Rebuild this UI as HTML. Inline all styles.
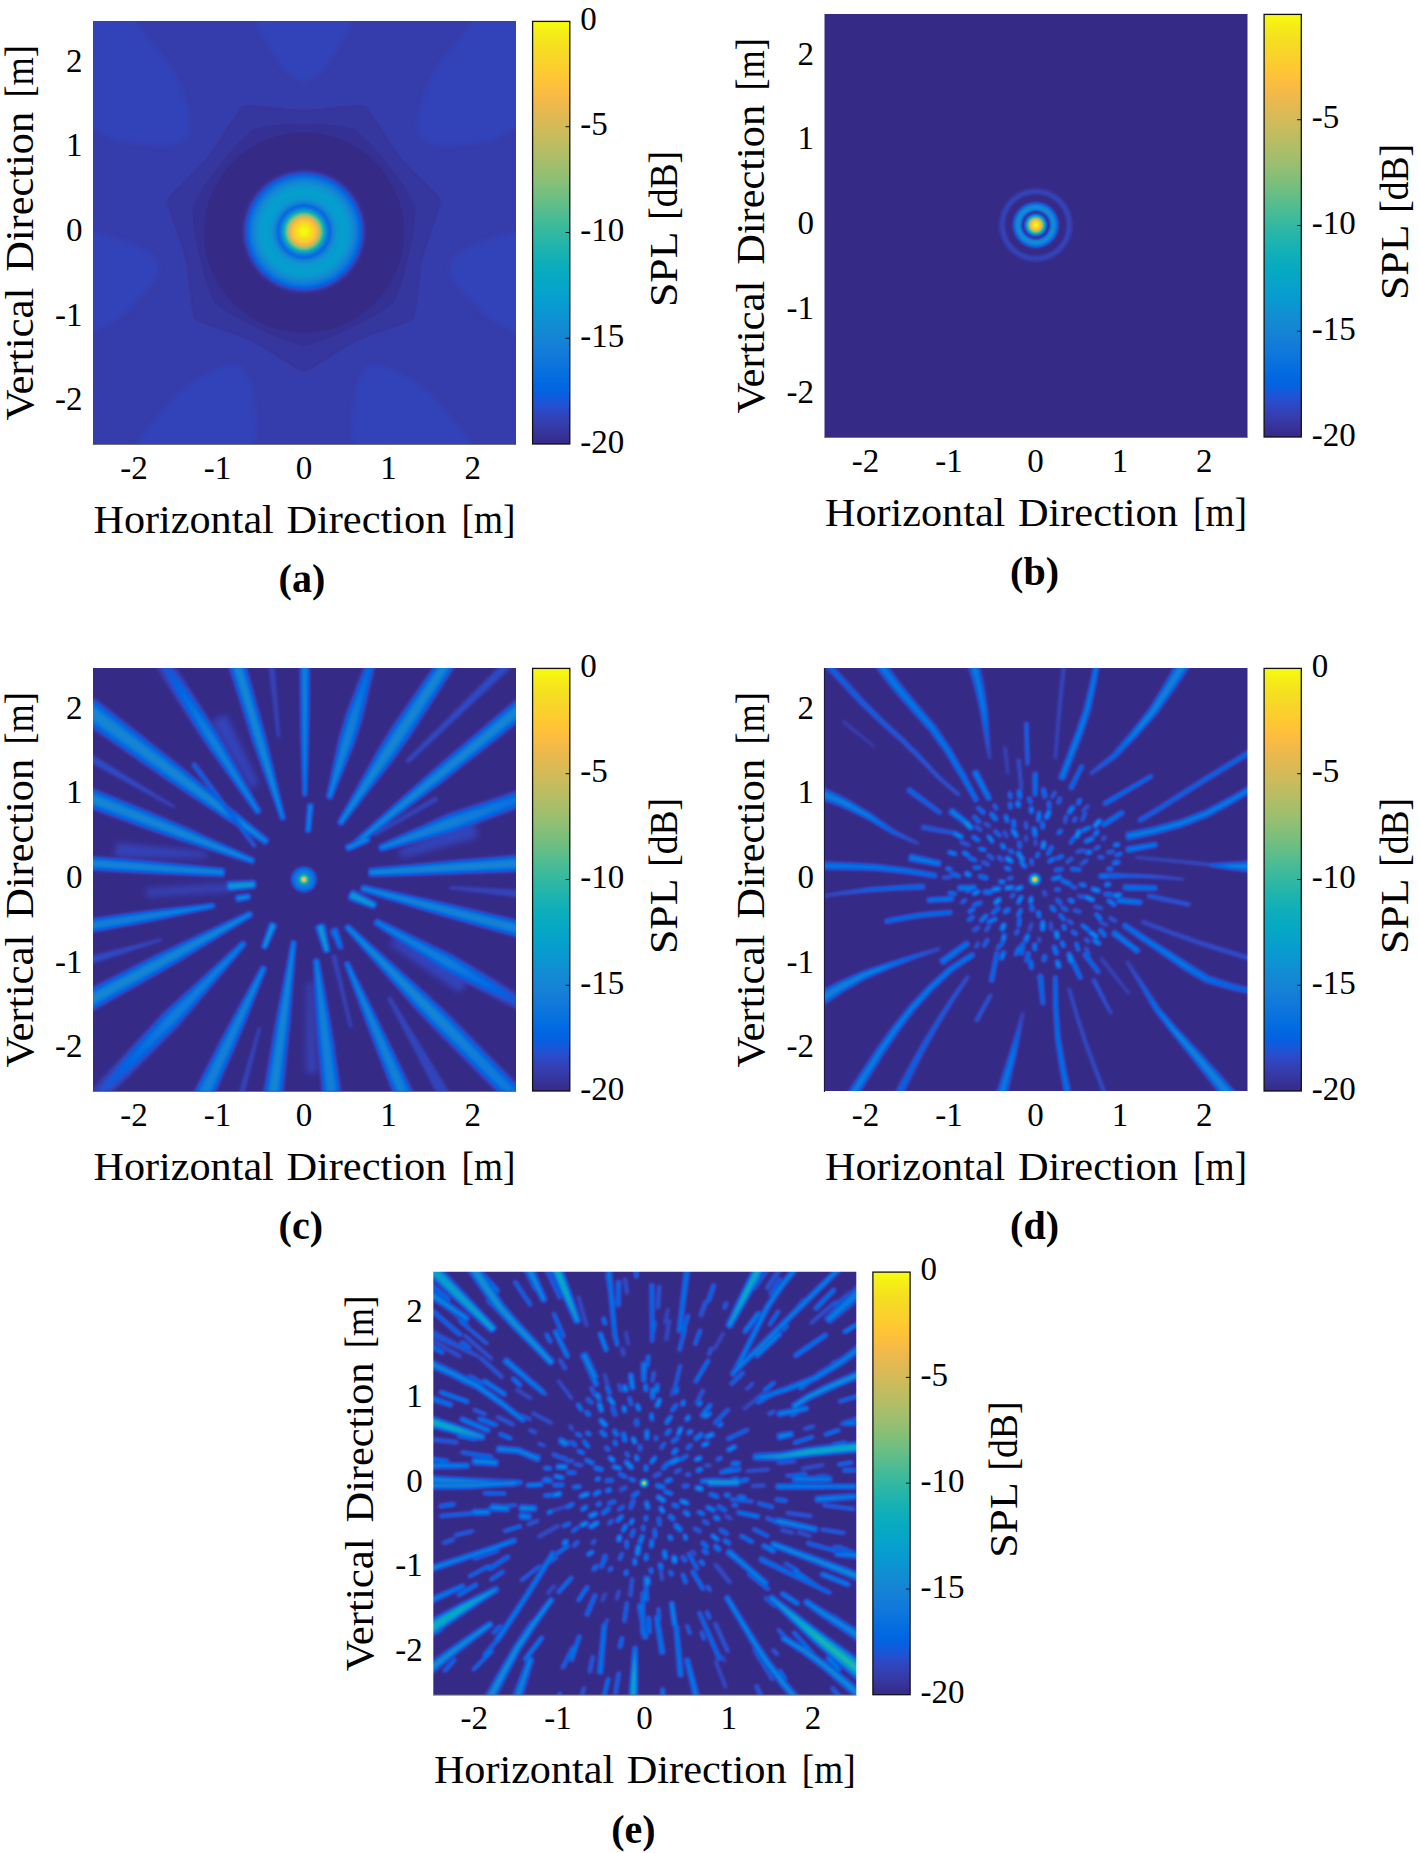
<!DOCTYPE html>
<html lang="en"><head><meta charset="utf-8"><title>Beamforming maps</title>
<style>html,body{margin:0;padding:0;background:#fff}svg{display:block}text{font-family:"Liberation Serif",serif;fill:#000}.t{font-size:33px}.l{font-size:40px}.c{font-size:40px;font-weight:bold}</style></head><body>
<svg width="1419" height="1853" viewBox="0 0 1419 1853">
<defs><filter id="pm" filterUnits="userSpaceOnUse" x="-12" y="-12" width="447" height="447" color-interpolation-filters="sRGB"><feGaussianBlur stdDeviation="1.5"/><feComponentTransfer><feFuncR type="table" tableValues="0.2081 0.2116 0.2123 0.2081 0.1959 0.1707 0.1253 0.0591 0.0117 0.0060 0.0165 0.0329 0.0498 0.0629 0.0723 0.0779 0.0793 0.0749 0.0641 0.0488 0.0343 0.0265 0.0239 0.0231 0.0228 0.0267 0.0384 0.0590 0.0843 0.1133 0.1453 0.1801 0.2178 0.2586 0.3022 0.3482 0.3953 0.4420 0.4871 0.5300 0.5709 0.6099 0.6473 0.6834 0.7184 0.7525 0.7858 0.8185 0.8507 0.8824 0.9139 0.9450 0.9739 0.9938 0.9990 0.9955 0.9880 0.9789 0.9697 0.9626 0.9589 0.9598 0.9661 0.9763"/><feFuncG type="table" tableValues="0.1663 0.1898 0.2138 0.2386 0.2645 0.2919 0.3242 0.3598 0.3875 0.4086 0.4266 0.4430 0.4586 0.4737 0.4887 0.5040 0.5200 0.5375 0.5570 0.5772 0.5966 0.6137 0.6287 0.6418 0.6535 0.6642 0.6743 0.6838 0.6928 0.7015 0.7098 0.7177 0.7250 0.7317 0.7376 0.7424 0.7459 0.7481 0.7491 0.7491 0.7485 0.7473 0.7456 0.7435 0.7411 0.7384 0.7356 0.7327 0.7299 0.7274 0.7258 0.7261 0.7314 0.7455 0.7653 0.7861 0.8066 0.8271 0.8481 0.8705 0.8949 0.9218 0.9514 0.9831"/><feFuncB type="table" tableValues="0.5292 0.5777 0.6270 0.6771 0.7279 0.7792 0.8303 0.8683 0.8820 0.8828 0.8786 0.8720 0.8641 0.8554 0.8467 0.8384 0.8312 0.8263 0.8240 0.8228 0.8199 0.8135 0.8038 0.7913 0.7768 0.7607 0.7436 0.7254 0.7062 0.6859 0.6646 0.6424 0.6193 0.5954 0.5712 0.5473 0.5244 0.5033 0.4840 0.4661 0.4494 0.4337 0.4188 0.4044 0.3905 0.3768 0.3633 0.3498 0.3360 0.3217 0.3063 0.2886 0.2666 0.2403 0.2164 0.1967 0.1794 0.1633 0.1475 0.1309 0.1132 0.0948 0.0755 0.0538"/><feFuncA type="linear" slope="0" intercept="1"/></feComponentTransfer></filter><filter id="bl2" x="-20%" y="-20%" width="140%" height="140%" color-interpolation-filters="sRGB"><feGaussianBlur stdDeviation="2"/></filter><filter id="bl3" x="-20%" y="-20%" width="140%" height="140%" color-interpolation-filters="sRGB"><feGaussianBlur stdDeviation="3"/></filter><filter id="bl5" x="-20%" y="-20%" width="140%" height="140%" color-interpolation-filters="sRGB"><feGaussianBlur stdDeviation="5"/></filter><filter id="pm0" filterUnits="userSpaceOnUse" x="-12" y="-12" width="447" height="447" color-interpolation-filters="sRGB"><feGaussianBlur stdDeviation="0.6"/><feComponentTransfer><feFuncR type="table" tableValues="0.2081 0.2116 0.2123 0.2081 0.1959 0.1707 0.1253 0.0591 0.0117 0.0060 0.0165 0.0329 0.0498 0.0629 0.0723 0.0779 0.0793 0.0749 0.0641 0.0488 0.0343 0.0265 0.0239 0.0231 0.0228 0.0267 0.0384 0.0590 0.0843 0.1133 0.1453 0.1801 0.2178 0.2586 0.3022 0.3482 0.3953 0.4420 0.4871 0.5300 0.5709 0.6099 0.6473 0.6834 0.7184 0.7525 0.7858 0.8185 0.8507 0.8824 0.9139 0.9450 0.9739 0.9938 0.9990 0.9955 0.9880 0.9789 0.9697 0.9626 0.9589 0.9598 0.9661 0.9763"/><feFuncG type="table" tableValues="0.1663 0.1898 0.2138 0.2386 0.2645 0.2919 0.3242 0.3598 0.3875 0.4086 0.4266 0.4430 0.4586 0.4737 0.4887 0.5040 0.5200 0.5375 0.5570 0.5772 0.5966 0.6137 0.6287 0.6418 0.6535 0.6642 0.6743 0.6838 0.6928 0.7015 0.7098 0.7177 0.7250 0.7317 0.7376 0.7424 0.7459 0.7481 0.7491 0.7491 0.7485 0.7473 0.7456 0.7435 0.7411 0.7384 0.7356 0.7327 0.7299 0.7274 0.7258 0.7261 0.7314 0.7455 0.7653 0.7861 0.8066 0.8271 0.8481 0.8705 0.8949 0.9218 0.9514 0.9831"/><feFuncB type="table" tableValues="0.5292 0.5777 0.6270 0.6771 0.7279 0.7792 0.8303 0.8683 0.8820 0.8828 0.8786 0.8720 0.8641 0.8554 0.8467 0.8384 0.8312 0.8263 0.8240 0.8228 0.8199 0.8135 0.8038 0.7913 0.7768 0.7607 0.7436 0.7254 0.7062 0.6859 0.6646 0.6424 0.6193 0.5954 0.5712 0.5473 0.5244 0.5033 0.4840 0.4661 0.4494 0.4337 0.4188 0.4044 0.3905 0.3768 0.3633 0.3498 0.3360 0.3217 0.3063 0.2886 0.2666 0.2403 0.2164 0.1967 0.1794 0.1633 0.1475 0.1309 0.1132 0.0948 0.0755 0.0538"/><feFuncA type="linear" slope="0" intercept="1"/></feComponentTransfer></filter><linearGradient id="cb" x1="0" y1="0" x2="0" y2="1"><stop offset="0.0000" stop-color="#f9fb0e"/><stop offset="0.0159" stop-color="#f6f313"/><stop offset="0.0317" stop-color="#f5eb18"/><stop offset="0.0476" stop-color="#f5e41d"/><stop offset="0.0635" stop-color="#f5de21"/><stop offset="0.0794" stop-color="#f7d826"/><stop offset="0.0952" stop-color="#fad32a"/><stop offset="0.1111" stop-color="#fcce2e"/><stop offset="0.1270" stop-color="#fec832"/><stop offset="0.1429" stop-color="#ffc337"/><stop offset="0.1587" stop-color="#fdbe3d"/><stop offset="0.1746" stop-color="#f8bb44"/><stop offset="0.1905" stop-color="#f1b94a"/><stop offset="0.2063" stop-color="#e9b94e"/><stop offset="0.2222" stop-color="#e1b952"/><stop offset="0.2381" stop-color="#d9ba56"/><stop offset="0.2540" stop-color="#d1bb59"/><stop offset="0.2698" stop-color="#c8bc5d"/><stop offset="0.2857" stop-color="#c0bc60"/><stop offset="0.3016" stop-color="#b7bd64"/><stop offset="0.3175" stop-color="#aebe67"/><stop offset="0.3333" stop-color="#a5be6b"/><stop offset="0.3492" stop-color="#9cbf6f"/><stop offset="0.3651" stop-color="#92bf73"/><stop offset="0.3810" stop-color="#87bf77"/><stop offset="0.3968" stop-color="#7cbf7b"/><stop offset="0.4127" stop-color="#71bf80"/><stop offset="0.4286" stop-color="#65be86"/><stop offset="0.4444" stop-color="#59bd8c"/><stop offset="0.4603" stop-color="#4dbc92"/><stop offset="0.4762" stop-color="#42bb98"/><stop offset="0.4921" stop-color="#38b99e"/><stop offset="0.5079" stop-color="#2eb7a4"/><stop offset="0.5238" stop-color="#25b5a9"/><stop offset="0.5397" stop-color="#1db3af"/><stop offset="0.5556" stop-color="#15b1b4"/><stop offset="0.5714" stop-color="#0faeb9"/><stop offset="0.5873" stop-color="#0aacbe"/><stop offset="0.6032" stop-color="#07a9c2"/><stop offset="0.6190" stop-color="#06a7c6"/><stop offset="0.6349" stop-color="#06a4ca"/><stop offset="0.6508" stop-color="#06a0cd"/><stop offset="0.6667" stop-color="#079ccf"/><stop offset="0.6825" stop-color="#0998d1"/><stop offset="0.6984" stop-color="#0c93d2"/><stop offset="0.7143" stop-color="#108ed2"/><stop offset="0.7302" stop-color="#1389d3"/><stop offset="0.7460" stop-color="#1485d4"/><stop offset="0.7619" stop-color="#1481d6"/><stop offset="0.7778" stop-color="#127dd8"/><stop offset="0.7937" stop-color="#1079da"/><stop offset="0.8095" stop-color="#0d75dc"/><stop offset="0.8254" stop-color="#0871de"/><stop offset="0.8413" stop-color="#046de0"/><stop offset="0.8571" stop-color="#0268e1"/><stop offset="0.8730" stop-color="#0363e1"/><stop offset="0.8889" stop-color="#0f5cdd"/><stop offset="0.9048" stop-color="#2053d4"/><stop offset="0.9206" stop-color="#2c4ac7"/><stop offset="0.9365" stop-color="#3243ba"/><stop offset="0.9524" stop-color="#353dad"/><stop offset="0.9683" stop-color="#3637a0"/><stop offset="0.9841" stop-color="#363093"/><stop offset="1.0000" stop-color="#352a87"/></linearGradient><clipPath id="pc"><rect x="0" y="0" width="423" height="423"/></clipPath><radialGradient id="ga" gradientUnits="userSpaceOnUse" cx="211" cy="210.5" r="64"><stop offset="0.0000" stop-color="#ffffff"/><stop offset="0.0703" stop-color="#fafafa"/><stop offset="0.1406" stop-color="#e8e8e8"/><stop offset="0.1953" stop-color="#d2d2d2"/><stop offset="0.2422" stop-color="#b2b2b2"/><stop offset="0.2891" stop-color="#868686"/><stop offset="0.3281" stop-color="#595959"/><stop offset="0.3672" stop-color="#333333"/><stop offset="0.4062" stop-color="#262626"/><stop offset="0.4531" stop-color="#3d3d3d"/><stop offset="0.5156" stop-color="#525252"/><stop offset="0.6250" stop-color="#595959"/><stop offset="0.7188" stop-color="#4f4f4f"/><stop offset="0.7969" stop-color="#3c3c3c"/><stop offset="0.8594" stop-color="#292929"/><stop offset="0.9141" stop-color="#121212"/><stop offset="0.9609" stop-color="#040404"/><stop offset="1.0000" stop-color="#000000"/></radialGradient><radialGradient id="gb" gradientUnits="userSpaceOnUse" cx="211.3" cy="211" r="40"><stop offset="0.0000" stop-color="#ffffff"/><stop offset="0.0500" stop-color="#f7f7f7"/><stop offset="0.1000" stop-color="#dfdfdf"/><stop offset="0.1500" stop-color="#b9b9b9"/><stop offset="0.2000" stop-color="#808080"/><stop offset="0.2375" stop-color="#4c4c4c"/><stop offset="0.2750" stop-color="#1a1a1a"/><stop offset="0.3125" stop-color="#030303"/><stop offset="0.3500" stop-color="#131313"/><stop offset="0.3875" stop-color="#393939"/><stop offset="0.4375" stop-color="#4a4a4a"/><stop offset="0.4875" stop-color="#3d3d3d"/><stop offset="0.5375" stop-color="#222222"/><stop offset="0.5875" stop-color="#060606"/><stop offset="0.6250" stop-color="#000000"/><stop offset="0.7250" stop-color="#000000"/><stop offset="0.7750" stop-color="#090909"/><stop offset="0.8375" stop-color="#121212"/><stop offset="0.9000" stop-color="#090909"/><stop offset="0.9625" stop-color="#000000"/><stop offset="1.0000" stop-color="#000000"/></radialGradient><radialGradient id="gc" gradientUnits="userSpaceOnUse" cx="210.9" cy="211.4" r="13"><stop offset="0.0000" stop-color="#ffffff"/><stop offset="0.1000" stop-color="#ffffff"/><stop offset="0.2000" stop-color="#b2b2b2"/><stop offset="0.3231" stop-color="#666666"/><stop offset="0.4769" stop-color="#393939"/><stop offset="0.8462" stop-color="#2d2d2d"/><stop offset="0.9231" stop-color="#1a1a1a"/><stop offset="1.0000" stop-color="#000000"/></radialGradient><radialGradient id="gd" gradientUnits="userSpaceOnUse" cx="210.3" cy="211.4" r="7"><stop offset="0.0000" stop-color="#ffffff"/><stop offset="0.2286" stop-color="#ffffff"/><stop offset="0.3714" stop-color="#b2b2b2"/><stop offset="0.5571" stop-color="#595959"/><stop offset="0.7429" stop-color="#2d2d2d"/><stop offset="0.8857" stop-color="#000000"/></radialGradient><radialGradient id="ge" gradientUnits="userSpaceOnUse" cx="210.8" cy="211.4" r="5"><stop offset="0.0000" stop-color="#ffffff"/><stop offset="0.2600" stop-color="#ffffff"/><stop offset="0.4600" stop-color="#999999"/><stop offset="0.6600" stop-color="#404040"/><stop offset="0.8400" stop-color="#000000"/></radialGradient><linearGradient id="r1" gradientUnits="userSpaceOnUse" x1="69.2" y1="-6.7" x2="165.9" y2="144.7"><stop offset="0" stop-color="#060606"/><stop offset="0.5" stop-color="#111111"/><stop offset="1" stop-color="#111111"/></linearGradient><linearGradient id="r2" gradientUnits="userSpaceOnUse" x1="69.2" y1="-6.7" x2="165.9" y2="144.7"><stop offset="0" stop-color="#0d0d0d"/><stop offset="0.5" stop-color="#262626"/><stop offset="1" stop-color="#262626"/></linearGradient><linearGradient id="r3" gradientUnits="userSpaceOnUse" x1="69.2" y1="-6.7" x2="165.9" y2="144.7"><stop offset="0" stop-color="#151515"/><stop offset="0.5" stop-color="#3b3b3b"/><stop offset="1" stop-color="#3b3b3b"/></linearGradient><linearGradient id="r4" gradientUnits="userSpaceOnUse" x1="278.5" y1="-7.6" x2="236" y2="130.3"><stop offset="0" stop-color="#0a0a0a"/><stop offset="0.5" stop-color="#121212"/><stop offset="1" stop-color="#121212"/></linearGradient><linearGradient id="r5" gradientUnits="userSpaceOnUse" x1="278.5" y1="-7.6" x2="236" y2="130.3"><stop offset="0" stop-color="#161616"/><stop offset="0.5" stop-color="#292929"/><stop offset="1" stop-color="#292929"/></linearGradient><linearGradient id="r6" gradientUnits="userSpaceOnUse" x1="278.5" y1="-7.6" x2="236" y2="130.3"><stop offset="0" stop-color="#222222"/><stop offset="0.5" stop-color="#3d3d3d"/><stop offset="1" stop-color="#3d3d3d"/></linearGradient><linearGradient id="r7" gradientUnits="userSpaceOnUse" x1="430.5" y1="129.1" x2="286.8" y2="180.3"><stop offset="0" stop-color="#0d0d0d"/><stop offset="0.5" stop-color="#121212"/><stop offset="1" stop-color="#121212"/></linearGradient><linearGradient id="r8" gradientUnits="userSpaceOnUse" x1="430.5" y1="129.1" x2="286.8" y2="180.3"><stop offset="0" stop-color="#1d1d1d"/><stop offset="0.5" stop-color="#292929"/><stop offset="1" stop-color="#292929"/></linearGradient><linearGradient id="r9" gradientUnits="userSpaceOnUse" x1="430.5" y1="129.1" x2="286.8" y2="180.3"><stop offset="0" stop-color="#2b2b2b"/><stop offset="0.5" stop-color="#3d3d3d"/><stop offset="1" stop-color="#3d3d3d"/></linearGradient><linearGradient id="r10" gradientUnits="userSpaceOnUse" x1="3.6" y1="428.8" x2="151.5" y2="274.7"><stop offset="0" stop-color="#060606"/><stop offset="0.5" stop-color="#111111"/><stop offset="1" stop-color="#111111"/></linearGradient><linearGradient id="r11" gradientUnits="userSpaceOnUse" x1="3.6" y1="428.8" x2="151.5" y2="274.7"><stop offset="0" stop-color="#0d0d0d"/><stop offset="0.5" stop-color="#262626"/><stop offset="1" stop-color="#262626"/></linearGradient><linearGradient id="r12" gradientUnits="userSpaceOnUse" x1="3.6" y1="428.8" x2="151.5" y2="274.7"><stop offset="0" stop-color="#141414"/><stop offset="0.5" stop-color="#383838"/><stop offset="1" stop-color="#383838"/></linearGradient><linearGradient id="r13" gradientUnits="userSpaceOnUse" x1="430" y1="336.9" x2="282.2" y2="253.5"><stop offset="0" stop-color="#070707"/><stop offset="0.5" stop-color="#111111"/><stop offset="1" stop-color="#111111"/></linearGradient><linearGradient id="r14" gradientUnits="userSpaceOnUse" x1="430" y1="336.9" x2="282.2" y2="253.5"><stop offset="0" stop-color="#0f0f0f"/><stop offset="0.5" stop-color="#262626"/><stop offset="1" stop-color="#262626"/></linearGradient><linearGradient id="r15" gradientUnits="userSpaceOnUse" x1="430" y1="336.9" x2="282.2" y2="253.5"><stop offset="0" stop-color="#161616"/><stop offset="0.5" stop-color="#383838"/><stop offset="1" stop-color="#383838"/></linearGradient><linearGradient id="r16" gradientUnits="userSpaceOnUse" x1="424.1" y1="430.1" x2="253.5" y2="258"><stop offset="0" stop-color="#0e0e0e"/><stop offset="0.5" stop-color="#131313"/><stop offset="1" stop-color="#131313"/></linearGradient><linearGradient id="r17" gradientUnits="userSpaceOnUse" x1="424.1" y1="430.1" x2="253.5" y2="258"><stop offset="0" stop-color="#202020"/><stop offset="0.5" stop-color="#2a2a2a"/><stop offset="1" stop-color="#2a2a2a"/></linearGradient><linearGradient id="r18" gradientUnits="userSpaceOnUse" x1="424.1" y1="430.1" x2="253.5" y2="258"><stop offset="0" stop-color="#323232"/><stop offset="0.5" stop-color="#424242"/><stop offset="1" stop-color="#424242"/></linearGradient><linearGradient id="r19" gradientUnits="userSpaceOnUse" x1="147.9" y1="-7.7" x2="165.2" y2="90.9"><stop offset="0" stop-color="#171717"/><stop offset="0.5" stop-color="#171717"/><stop offset="1" stop-color="#090909"/></linearGradient><linearGradient id="r20" gradientUnits="userSpaceOnUse" x1="147.9" y1="-7.7" x2="165.2" y2="90.9"><stop offset="0" stop-color="#323232"/><stop offset="0.5" stop-color="#323232"/><stop offset="1" stop-color="#141414"/></linearGradient><linearGradient id="r21" gradientUnits="userSpaceOnUse" x1="-7.4" y1="123.5" x2="93.9" y2="175.8"><stop offset="0" stop-color="#191919"/><stop offset="0.5" stop-color="#191919"/><stop offset="1" stop-color="#0d0d0d"/></linearGradient><linearGradient id="r22" gradientUnits="userSpaceOnUse" x1="-7.4" y1="123.5" x2="93.9" y2="175.8"><stop offset="0" stop-color="#373737"/><stop offset="0.5" stop-color="#373737"/><stop offset="1" stop-color="#1c1c1c"/></linearGradient><linearGradient id="r23" gradientUnits="userSpaceOnUse" x1="360.7" y1="-6.8" x2="265.6" y2="106.1"><stop offset="0" stop-color="#131313"/><stop offset="0.5" stop-color="#131313"/><stop offset="1" stop-color="#090909"/></linearGradient><linearGradient id="r24" gradientUnits="userSpaceOnUse" x1="360.7" y1="-6.8" x2="265.6" y2="106.1"><stop offset="0" stop-color="#2a2a2a"/><stop offset="0.5" stop-color="#2a2a2a"/><stop offset="1" stop-color="#131313"/></linearGradient><linearGradient id="r25" gradientUnits="userSpaceOnUse" x1="360.7" y1="-6.8" x2="265.6" y2="106.1"><stop offset="0" stop-color="#3e3e3e"/><stop offset="0.5" stop-color="#3e3e3e"/><stop offset="1" stop-color="#1c1c1c"/></linearGradient><linearGradient id="r26" gradientUnits="userSpaceOnUse" x1="431" y1="198.7" x2="382.2" y2="196.7"><stop offset="0" stop-color="#181818"/><stop offset="0.5" stop-color="#181818"/><stop offset="1" stop-color="#0e0e0e"/></linearGradient><linearGradient id="r27" gradientUnits="userSpaceOnUse" x1="431" y1="198.7" x2="382.2" y2="196.7"><stop offset="0" stop-color="#373737"/><stop offset="0.5" stop-color="#373737"/><stop offset="1" stop-color="#212121"/></linearGradient><linearGradient id="r28" gradientUnits="userSpaceOnUse" x1="-7.9" y1="228.9" x2="100" y2="218.6"><stop offset="0" stop-color="#080808"/><stop offset="0.5" stop-color="#111111"/><stop offset="1" stop-color="#111111"/></linearGradient><linearGradient id="r29" gradientUnits="userSpaceOnUse" x1="-7.9" y1="228.9" x2="100" y2="218.6"><stop offset="0" stop-color="#151515"/><stop offset="0.5" stop-color="#292929"/><stop offset="1" stop-color="#292929"/></linearGradient><linearGradient id="r30" gradientUnits="userSpaceOnUse" x1="-6.9" y1="332.6" x2="115.2" y2="280.7"><stop offset="0" stop-color="#131313"/><stop offset="0.5" stop-color="#131313"/><stop offset="1" stop-color="#090909"/></linearGradient><linearGradient id="r31" gradientUnits="userSpaceOnUse" x1="-6.9" y1="332.6" x2="115.2" y2="280.7"><stop offset="0" stop-color="#2a2a2a"/><stop offset="0.5" stop-color="#2a2a2a"/><stop offset="1" stop-color="#131313"/></linearGradient><linearGradient id="r32" gradientUnits="userSpaceOnUse" x1="-6.9" y1="332.6" x2="115.2" y2="280.7"><stop offset="0" stop-color="#3c3c3c"/><stop offset="0.5" stop-color="#3c3c3c"/><stop offset="1" stop-color="#1b1b1b"/></linearGradient><linearGradient id="r33" gradientUnits="userSpaceOnUse" x1="175.8" y1="430.7" x2="198.5" y2="344.4"><stop offset="0" stop-color="#171717"/><stop offset="0.5" stop-color="#171717"/><stop offset="1" stop-color="#090909"/></linearGradient><linearGradient id="r34" gradientUnits="userSpaceOnUse" x1="175.8" y1="430.7" x2="198.5" y2="344.4"><stop offset="0" stop-color="#323232"/><stop offset="0.5" stop-color="#323232"/><stop offset="1" stop-color="#141414"/></linearGradient><linearGradient id="r35" gradientUnits="userSpaceOnUse" x1="406.3" y1="429.1" x2="301.9" y2="292.8"><stop offset="0" stop-color="#131313"/><stop offset="0.5" stop-color="#131313"/><stop offset="1" stop-color="#070707"/></linearGradient><linearGradient id="r36" gradientUnits="userSpaceOnUse" x1="406.3" y1="429.1" x2="301.9" y2="292.8"><stop offset="0" stop-color="#2a2a2a"/><stop offset="0.5" stop-color="#2a2a2a"/><stop offset="1" stop-color="#0f0f0f"/></linearGradient><linearGradient id="r37" gradientUnits="userSpaceOnUse" x1="406.3" y1="429.1" x2="301.9" y2="292.8"><stop offset="0" stop-color="#3e3e3e"/><stop offset="0.5" stop-color="#3e3e3e"/><stop offset="1" stop-color="#161616"/></linearGradient><linearGradient id="r38" gradientUnits="userSpaceOnUse" x1="430.8" y1="324.2" x2="298.9" y2="256.5"><stop offset="0" stop-color="#0d0d0d"/><stop offset="0.5" stop-color="#151515"/><stop offset="1" stop-color="#151515"/></linearGradient><linearGradient id="r39" gradientUnits="userSpaceOnUse" x1="430.8" y1="324.2" x2="298.9" y2="256.5"><stop offset="0" stop-color="#1e1e1e"/><stop offset="0.5" stop-color="#323232"/><stop offset="1" stop-color="#323232"/></linearGradient><linearGradient id="r40" gradientUnits="userSpaceOnUse" x1="121.3" y1="-7.4" x2="144.7" y2="50.8"><stop offset="0" stop-color="#1e1e1e"/><stop offset="0.5" stop-color="#1e1e1e"/><stop offset="1" stop-color="#151515"/></linearGradient><linearGradient id="r41" gradientUnits="userSpaceOnUse" x1="121.3" y1="-7.4" x2="144.7" y2="50.8"><stop offset="0" stop-color="#424242"/><stop offset="0.5" stop-color="#424242"/><stop offset="1" stop-color="#2e2e2e"/></linearGradient><linearGradient id="r42" gradientUnits="userSpaceOnUse" x1="121.3" y1="-7.4" x2="144.7" y2="50.8"><stop offset="0" stop-color="#6b6b6b"/><stop offset="0.5" stop-color="#6b6b6b"/><stop offset="1" stop-color="#4b4b4b"/></linearGradient><linearGradient id="r43" gradientUnits="userSpaceOnUse" x1="-7.7" y1="148.5" x2="50.8" y2="165.9"><stop offset="0" stop-color="#1e1e1e"/><stop offset="0.5" stop-color="#1e1e1e"/><stop offset="1" stop-color="#121212"/></linearGradient><linearGradient id="r44" gradientUnits="userSpaceOnUse" x1="-7.7" y1="148.5" x2="50.8" y2="165.9"><stop offset="0" stop-color="#424242"/><stop offset="0.5" stop-color="#424242"/><stop offset="1" stop-color="#282828"/></linearGradient><linearGradient id="r45" gradientUnits="userSpaceOnUse" x1="-7.7" y1="148.5" x2="50.8" y2="165.9"><stop offset="0" stop-color="#6b6b6b"/><stop offset="0.5" stop-color="#6b6b6b"/><stop offset="1" stop-color="#404040"/></linearGradient><linearGradient id="r46" gradientUnits="userSpaceOnUse" x1="327.6" y1="-7.1" x2="295.1" y2="55.3"><stop offset="0" stop-color="#1e1e1e"/><stop offset="0.5" stop-color="#1e1e1e"/><stop offset="1" stop-color="#151515"/></linearGradient><linearGradient id="r47" gradientUnits="userSpaceOnUse" x1="327.6" y1="-7.1" x2="295.1" y2="55.3"><stop offset="0" stop-color="#424242"/><stop offset="0.5" stop-color="#424242"/><stop offset="1" stop-color="#2e2e2e"/></linearGradient><linearGradient id="r48" gradientUnits="userSpaceOnUse" x1="327.6" y1="-7.1" x2="295.1" y2="55.3"><stop offset="0" stop-color="#6b6b6b"/><stop offset="0.5" stop-color="#6b6b6b"/><stop offset="1" stop-color="#4b4b4b"/></linearGradient><linearGradient id="r49" gradientUnits="userSpaceOnUse" x1="431" y1="174.7" x2="320.1" y2="185.2"><stop offset="0" stop-color="#1d1d1d"/><stop offset="0.5" stop-color="#1d1d1d"/><stop offset="1" stop-color="#0e0e0e"/></linearGradient><linearGradient id="r50" gradientUnits="userSpaceOnUse" x1="431" y1="174.7" x2="320.1" y2="185.2"><stop offset="0" stop-color="#404040"/><stop offset="0.5" stop-color="#404040"/><stop offset="1" stop-color="#202020"/></linearGradient><linearGradient id="r51" gradientUnits="userSpaceOnUse" x1="431" y1="174.7" x2="320.1" y2="185.2"><stop offset="0" stop-color="#6b6b6b"/><stop offset="0.5" stop-color="#6b6b6b"/><stop offset="1" stop-color="#363636"/></linearGradient><linearGradient id="r52" gradientUnits="userSpaceOnUse" x1="-6.8" y1="359.3" x2="64.4" y2="316.8"><stop offset="0" stop-color="#1e1e1e"/><stop offset="0.5" stop-color="#1e1e1e"/><stop offset="1" stop-color="#121212"/></linearGradient><linearGradient id="r53" gradientUnits="userSpaceOnUse" x1="-6.8" y1="359.3" x2="64.4" y2="316.8"><stop offset="0" stop-color="#424242"/><stop offset="0.5" stop-color="#424242"/><stop offset="1" stop-color="#282828"/></linearGradient><linearGradient id="r54" gradientUnits="userSpaceOnUse" x1="-6.8" y1="359.3" x2="64.4" y2="316.8"><stop offset="0" stop-color="#6b6b6b"/><stop offset="0.5" stop-color="#6b6b6b"/><stop offset="1" stop-color="#404040"/></linearGradient><linearGradient id="r55" gradientUnits="userSpaceOnUse" x1="199.7" y1="431" x2="201.8" y2="374.7"><stop offset="0" stop-color="#1d1d1d"/><stop offset="0.5" stop-color="#1d1d1d"/><stop offset="1" stop-color="#0e0e0e"/></linearGradient><linearGradient id="r56" gradientUnits="userSpaceOnUse" x1="199.7" y1="431" x2="201.8" y2="374.7"><stop offset="0" stop-color="#404040"/><stop offset="0.5" stop-color="#404040"/><stop offset="1" stop-color="#202020"/></linearGradient><linearGradient id="r57" gradientUnits="userSpaceOnUse" x1="199.7" y1="431" x2="201.8" y2="374.7"><stop offset="0" stop-color="#6b6b6b"/><stop offset="0.5" stop-color="#6b6b6b"/><stop offset="1" stop-color="#363636"/></linearGradient><linearGradient id="r58" gradientUnits="userSpaceOnUse" x1="430.9" y1="402.3" x2="336.8" y2="325"><stop offset="0" stop-color="#202020"/><stop offset="0.5" stop-color="#202020"/><stop offset="1" stop-color="#121212"/></linearGradient><linearGradient id="r59" gradientUnits="userSpaceOnUse" x1="430.9" y1="402.3" x2="336.8" y2="325"><stop offset="0" stop-color="#474747"/><stop offset="0.5" stop-color="#474747"/><stop offset="1" stop-color="#272727"/></linearGradient><linearGradient id="r60" gradientUnits="userSpaceOnUse" x1="430.9" y1="402.3" x2="336.8" y2="325"><stop offset="0" stop-color="#787878"/><stop offset="0.5" stop-color="#787878"/><stop offset="1" stop-color="#424242"/></linearGradient></defs>
<g transform="translate(0,0)">
<g transform="translate(93,21)" clip-path="url(#pc)"><g filter="url(#pm0)">
<rect x="-12" y="-12" width="447" height="447" fill="#0c0c0c"/>
<g filter="url(#bl2)"><path d="M211 62.5L223.5 56.5L229.5 50.5L234.4 44.5L238.7 38.5L242.7 32.5L246.4 26.5L250 20.5L253.3 14.5L256.6 8.5L258.2 2.5L262.6 -17.5L267 -37.5L271.4 -57.5L275.8 -77.5L280.2 -97.5L284.6 -117.5L137.4 -117.5L141.8 -97.5L146.2 -77.5L150.6 -57.5L155 -37.5L159.4 -17.5L163.8 2.5L165.4 8.5L168.7 14.5L172 20.5L175.6 26.5L179.3 32.5L183.3 38.5L187.6 44.5L192.5 50.5L198.5 56.5L211 62.5Z" fill="#101010"/><path d="M326.7 118.2L339.2 124.3L347.6 125.2L355.4 125.3L362.8 124.9L369.9 124.3L376.9 123.5L383.8 122.5L390.6 121.4L397.3 120.2L403 117.7L421.4 108.7L439.8 99.7L458.2 90.6L476.6 81.6L494.9 72.6L513.3 63.5L421.6 -51.5L408.7 -35.6L395.8 -19.7L382.9 -3.8L370 12.1L357.1 28L344.2 43.9L340.5 48.9L337.9 55.2L335.3 61.6L332.8 68.1L330.4 74.7L328.2 81.6L326.2 88.7L324.5 96.3L323.6 104.7L326.7 118.2Z" fill="#101010"/><path d="M355.3 243.4L358.3 257L362.9 264.2L367.6 270.3L372.5 275.8L377.5 281L382.5 286L387.6 290.8L392.7 295.4L397.8 299.9L403.3 302.8L421.8 311.5L440.3 320.3L458.8 329L477.4 337.8L495.9 346.5L514.4 355.2L547.2 211.7L526.7 211.6L506.2 211.4L485.7 211.2L465.2 211.1L444.8 210.9L424.3 210.8L418.1 211L411.5 212.9L404.9 214.8L398.3 216.9L391.6 219.2L384.9 221.7L378 224.6L371.1 228L363.9 232.5L355.3 243.4Z" fill="#101010"/><path d="M275.2 343.8L266.5 354.7L263.7 362.7L261.9 370.2L260.6 377.5L259.7 384.6L258.9 391.6L258.3 398.6L257.9 405.5L257.6 412.3L258.7 418.4L263.4 438.3L268.1 458.2L272.9 478.2L277.6 498.1L282.3 518L287 538L419.6 474.1L407 458L394.3 441.9L381.7 425.8L369.1 409.6L356.4 393.5L343.8 377.4L339.7 372.7L334.2 368.7L328.5 364.8L322.8 360.9L316.8 357.1L310.6 353.4L304.1 349.9L297.1 346.6L289.1 343.8L275.2 343.8Z" fill="#101010"/><path d="M146.8 343.8L132.9 343.8L124.9 346.6L117.9 349.9L111.4 353.4L105.2 357.1L99.2 360.9L93.5 364.8L87.8 368.7L82.3 372.7L78.2 377.4L65.6 393.5L52.9 409.6L40.3 425.8L27.7 441.9L15 458L2.4 474.1L135 538L139.7 518L144.4 498.1L149.1 478.2L153.9 458.2L158.6 438.3L163.3 418.4L164.4 412.3L164.1 405.5L163.7 398.6L163.1 391.6L162.3 384.6L161.4 377.5L160.1 370.2L158.3 362.7L155.5 354.7L146.8 343.8Z" fill="#101010"/><path d="M66.7 243.4L58.1 232.5L50.9 228L44 224.6L37.1 221.7L30.4 219.2L23.7 216.9L17.1 214.8L10.5 212.9L3.9 211L-2.3 210.8L-22.8 210.9L-43.2 211.1L-63.7 211.2L-84.2 211.4L-104.7 211.6L-125.2 211.7L-92.4 355.2L-73.9 346.5L-55.4 337.8L-36.8 329L-18.3 320.3L0.2 311.5L18.7 302.8L24.2 299.9L29.3 295.4L34.4 290.8L39.5 286L44.5 281L49.5 275.8L54.4 270.3L59.1 264.2L63.7 257L66.7 243.4Z" fill="#101010"/><path d="M95.3 118.2L98.4 104.7L97.5 96.3L95.8 88.7L93.8 81.6L91.6 74.7L89.2 68.1L86.7 61.6L84.1 55.2L81.5 48.9L77.8 43.9L64.9 28L52 12.1L39.1 -3.8L26.2 -19.7L13.3 -35.6L0.4 -51.5L-91.3 63.5L-72.9 72.6L-54.6 81.6L-36.2 90.6L-17.8 99.7L0.6 108.7L19 117.7L24.7 120.2L31.4 121.4L38.2 122.5L45.1 123.5L52.1 124.3L59.2 124.9L66.6 125.3L74.4 125.2L82.8 124.3L95.3 118.2Z" fill="#101010"/></g><path d="M337.5 210.5L338.8 206.7L340.1 202.8L341.5 198.8L342.8 194.6L344.2 190.4L345.5 186.1L346.8 181.6L345.9 177.6L342.8 174.1L339.7 170.8L336.7 167.6L333.6 164.5L330.7 161.4L327.8 158.5L324.9 155.6L322.1 152.8L319.4 150.1L316.7 147.3L314.1 144.6L311.6 141.9L309.1 139.2L306.8 136.5L304.5 133.6L302.3 130.7L300.3 127.7L298.2 124.6L296.1 121.5L294.1 118.3L292 115L289.8 111.6L287.7 108.2L285.5 104.7L283.2 101.2L280.8 97.5L278.3 93.9L275.8 90.1L273.1 86.3L269.4 84.5L264.7 84.8L260.2 85.1L255.8 85.5L251.5 85.9L247.3 86.3L243.2 86.8L239.1 87.2L235.2 87.6L231.3 88.1L227.5 88.4L223.8 88.8L220.1 89.1L216.4 89.3L212.8 89.5L209.2 89.5L205.6 89.3L201.9 89.1L198.2 88.8L194.5 88.4L190.7 88.1L186.8 87.6L182.9 87.2L178.8 86.8L174.7 86.3L170.5 85.9L166.2 85.5L161.8 85.1L157.3 84.8L152.6 84.5L148.9 86.3L146.2 90.1L143.7 93.9L141.2 97.5L138.8 101.2L136.5 104.7L134.3 108.2L132.2 111.6L130 115L127.9 118.3L125.9 121.5L123.8 124.6L121.7 127.7L119.7 130.7L117.5 133.6L115.2 136.5L112.9 139.2L110.4 141.9L107.9 144.6L105.3 147.3L102.6 150.1L99.9 152.8L97.1 155.6L94.2 158.5L91.3 161.4L88.4 164.5L85.3 167.6L82.3 170.8L79.2 174.1L76.1 177.6L75.2 181.6L76.5 186.1L77.8 190.4L79.2 194.6L80.5 198.8L81.9 202.8L83.2 206.7L84.5 210.5L85.8 214.2L87.1 217.9L88.3 221.5L89.5 225.1L90.6 228.6L91.6 232.2L92.6 235.7L93.4 239.2L94.1 242.8L94.7 246.4L95.2 250.1L95.7 253.8L96.1 257.6L96.6 261.4L97.1 265.4L97.5 269.4L98 273.5L98.5 277.7L99.1 282L99.7 286.4L100.4 290.9L101.1 295.5L103.7 298.7L108 300.5L112.3 302.1L116.4 303.7L120.5 305.2L124.4 306.6L128.3 308L132.2 309.4L135.9 310.7L139.6 312L143.1 313.3L146.7 314.6L150.1 315.9L153.5 317.3L156.9 318.8L160.1 320.3L163.3 322L166.5 323.8L169.7 325.7L172.9 327.6L176.2 329.6L179.5 331.7L182.9 333.8L186.3 335.9L189.8 338.1L193.4 340.3L197.1 342.5L200.9 344.8L204.9 347.1L208.9 349.4L213.1 349.4L217.1 347.1L221.1 344.8L224.9 342.5L228.6 340.3L232.2 338.1L235.7 335.9L239.1 333.8L242.5 331.7L245.8 329.6L249.1 327.6L252.3 325.7L255.5 323.8L258.7 322L261.9 320.3L265.1 318.8L268.5 317.3L271.9 315.9L275.3 314.6L278.9 313.3L282.4 312L286.1 310.7L289.8 309.4L293.7 308L297.6 306.6L301.5 305.2L305.6 303.7L309.7 302.1L314 300.5L318.3 298.7L320.9 295.5L321.6 290.9L322.3 286.4L322.9 282L323.5 277.7L324 273.5L324.5 269.4L324.9 265.4L325.4 261.4L325.9 257.6L326.3 253.8L326.8 250.1L327.3 246.4L327.9 242.8L328.6 239.2L329.4 235.7L330.4 232.2L331.4 228.6L332.5 225.1L333.7 221.5L334.9 217.9L336.2 214.2Z" fill="#080808" stroke="#080808" stroke-width="2" stroke-linejoin="round"/><path d="M320.5 210.5L321.1 205.6L321.7 200.5L322 195.5L322.2 190.3L322.1 185.1L319.9 180.4L317.5 175.9L315 171.5L312.4 167.2L309.6 163L306.8 159L303.8 155L300.8 151.2L297.7 147.5L294.7 143.8L291.7 140L288.8 136.1L285.7 132.3L282.6 128.6L279.3 124.9L275.8 121.3L272.2 117.8L268.4 114.3L264.5 111L260.5 107.8L255.4 106.6L250.4 105.6L245.3 104.8L240.3 104.2L235.4 103.8L230.4 103.5L225.5 103.3L220.6 103.3L215.8 103.4L211 103.5L206.2 103.4L201.4 103.3L196.5 103.3L191.6 103.5L186.6 103.8L181.7 104.2L176.7 104.8L171.6 105.6L166.6 106.6L161.5 107.8L157.5 111L153.6 114.3L149.8 117.8L146.2 121.3L142.7 124.9L139.4 128.6L136.3 132.3L133.2 136.1L130.3 140L127.3 143.8L124.3 147.5L121.2 151.2L118.2 155L115.2 159L112.4 163L109.6 167.2L107 171.5L104.5 175.9L102.1 180.4L99.9 185.1L99.8 190.3L100 195.5L100.3 200.5L100.9 205.6L101.5 210.5L102.3 215.4L103.3 220.2L104.3 224.9L105.5 229.6L106.7 234.3L107.6 239L108.6 243.8L109.7 248.5L111 253.2L112.4 258L113.9 262.7L115.6 267.5L117.5 272.2L119.6 276.9L121.9 281.6L125.9 284.8L130 287.9L134.2 290.8L138.5 293.5L142.7 296.1L147.1 298.5L151.4 300.8L155.8 302.9L160.2 304.9L164.6 306.9L168.9 309.1L173.2 311.3L177.6 313.4L182.1 315.4L186.6 317.2L191.3 319L196.1 320.6L201 322.1L205.9 323.4L211 324.5L216.1 323.4L221 322.1L225.9 320.6L230.7 319L235.4 317.2L239.9 315.4L244.4 313.4L248.8 311.3L253.1 309.1L257.4 306.9L261.8 304.9L266.2 302.9L270.6 300.8L274.9 298.5L279.3 296.1L283.5 293.5L287.8 290.8L292 287.9L296.1 284.8L300.1 281.6L302.4 276.9L304.5 272.2L306.4 267.5L308.1 262.7L309.6 258L311 253.2L312.3 248.5L313.4 243.8L314.4 239L315.3 234.3L316.5 229.6L317.7 224.9L318.7 220.2L319.7 215.4Z" fill="#040404"/><circle cx="211" cy="211.5" r="100" fill="#000000"/><circle cx="211" cy="210.5" r="64" fill="url(#ga)"/>
</g></g>
<rect x="92.8" y="443.9" width="423.4" height="0.9" fill="#262626" opacity="0.8"/>
<rect x="532.6" y="21.4" width="37.2" height="422.6" fill="url(#cb)" stroke="#111" stroke-width="1.3"/>
<rect x="565.6" y="126.2" width="4.2" height="1" fill="#111"/>
<rect x="565.6" y="232" width="4.2" height="1" fill="#111"/>
<rect x="565.6" y="337.8" width="4.2" height="1" fill="#111"/>
<text class="t" x="580.3" y="29.7">0</text>
<text class="t" x="580.3" y="135.4">-5</text>
<text class="t" x="580.3" y="241.2">-10</text>
<text class="t" x="580.3" y="346.9">-15</text>
<text class="t" x="580.3" y="452.7">-20</text>
<text class="t" text-anchor="middle" x="133.9" y="478.8">-2</text>
<text class="t" text-anchor="middle" x="217.6" y="478.8">-1</text>
<text class="t" text-anchor="middle" x="304.1" y="478.8">0</text>
<text class="t" text-anchor="middle" x="388.4" y="478.8">1</text>
<text class="t" text-anchor="middle" x="472.8" y="478.8">2</text>
<text class="t" text-anchor="end" x="82.4" y="71.8">2</text>
<text class="t" text-anchor="end" x="82.4" y="156.4">1</text>
<text class="t" text-anchor="end" x="82.4" y="241">0</text>
<text class="t" text-anchor="end" x="82.4" y="325.6">-1</text>
<text class="t" text-anchor="end" x="82.4" y="410.2">-2</text>
<text class="l" x="93.6" y="532.8" textLength="180.2" lengthAdjust="spacingAndGlyphs">Horizontal</text>
<text class="l" x="286.4" y="532.8" textLength="160" lengthAdjust="spacingAndGlyphs">Direction</text>
<text class="l" x="461.5" y="532.8" textLength="53.9" lengthAdjust="spacingAndGlyphs">[m]</text>
<text class="l" transform="translate(32.8,420.6) rotate(-90)" textLength="133" lengthAdjust="spacingAndGlyphs">Vertical</text>
<text class="l" transform="translate(32.8,271.8) rotate(-90)" textLength="160" lengthAdjust="spacingAndGlyphs">Direction</text>
<text class="l" transform="translate(32.8,97.6) rotate(-90)" textLength="52.6" lengthAdjust="spacingAndGlyphs">[m]</text>
<text class="l" transform="translate(676.8,307.1) rotate(-90)" textLength="75.5" lengthAdjust="spacingAndGlyphs">SPL</text>
<text class="l" transform="translate(676.8,219.8) rotate(-90)" textLength="68.9" lengthAdjust="spacingAndGlyphs">[dB]</text>
<text class="c" x="278.6" y="592.3">(a)</text>
</g>
<g transform="translate(731.5,-7)">
<g transform="translate(93,21)" clip-path="url(#pc)"><g filter="url(#pm0)">
<rect x="-12" y="-12" width="447" height="447" fill="#000000"/>
<circle cx="211.3" cy="211" r="40" fill="url(#gb)"/>
</g></g>
<rect x="92.8" y="443.9" width="423.4" height="0.9" fill="#262626" opacity="0.8"/>
<rect x="532.6" y="21.4" width="37.2" height="422.6" fill="url(#cb)" stroke="#111" stroke-width="1.3"/>
<rect x="565.6" y="126.2" width="4.2" height="1" fill="#111"/>
<rect x="565.6" y="232" width="4.2" height="1" fill="#111"/>
<rect x="565.6" y="337.8" width="4.2" height="1" fill="#111"/>
<text class="t" x="580.3" y="135.4">-5</text>
<text class="t" x="580.3" y="241.2">-10</text>
<text class="t" x="580.3" y="346.9">-15</text>
<text class="t" x="580.3" y="452.7">-20</text>
<text class="t" text-anchor="middle" x="133.9" y="478.8">-2</text>
<text class="t" text-anchor="middle" x="217.6" y="478.8">-1</text>
<text class="t" text-anchor="middle" x="304.1" y="478.8">0</text>
<text class="t" text-anchor="middle" x="388.4" y="478.8">1</text>
<text class="t" text-anchor="middle" x="472.8" y="478.8">2</text>
<text class="t" text-anchor="end" x="82.4" y="71.8">2</text>
<text class="t" text-anchor="end" x="82.4" y="156.4">1</text>
<text class="t" text-anchor="end" x="82.4" y="241">0</text>
<text class="t" text-anchor="end" x="82.4" y="325.6">-1</text>
<text class="t" text-anchor="end" x="82.4" y="410.2">-2</text>
<text class="l" x="93.6" y="532.8" textLength="180.2" lengthAdjust="spacingAndGlyphs">Horizontal</text>
<text class="l" x="286.4" y="532.8" textLength="160" lengthAdjust="spacingAndGlyphs">Direction</text>
<text class="l" x="461.5" y="532.8" textLength="53.9" lengthAdjust="spacingAndGlyphs">[m]</text>
<text class="l" transform="translate(32.8,420.6) rotate(-90)" textLength="133" lengthAdjust="spacingAndGlyphs">Vertical</text>
<text class="l" transform="translate(32.8,271.8) rotate(-90)" textLength="160" lengthAdjust="spacingAndGlyphs">Direction</text>
<text class="l" transform="translate(32.8,97.6) rotate(-90)" textLength="52.6" lengthAdjust="spacingAndGlyphs">[m]</text>
<text class="l" transform="translate(676.8,307.1) rotate(-90)" textLength="75.5" lengthAdjust="spacingAndGlyphs">SPL</text>
<text class="l" transform="translate(676.8,219.8) rotate(-90)" textLength="68.9" lengthAdjust="spacingAndGlyphs">[dB]</text>
<text class="c" x="278.6" y="592.3">(b)</text>
</g>
<g transform="translate(0,647)">
<g transform="translate(93,21)" clip-path="url(#pc)"><g filter="url(#pm)">
<rect x="-12" y="-12" width="447" height="447" fill="#000000"/>
<g filter="url(#bl3)"><path d="M118.7 53.8L128.7 70.3L138.6 86.9L148.6 103.5L158.6 120.1L165.7 116.3L157.4 98.8L149.2 81.3L141 63.8L132.8 46.2Z" fill="#111111"/><path d="M22.3 188.8L45.1 189.1L67.9 189.5L90.7 189.8L113.5 190.1L113.8 184.1L91.1 181.8L68.5 179.5L45.8 177.2L23.1 174.8Z" fill="#111111"/><path d="M379.3 152.1L360.8 159.7L342.3 167.3L323.7 175L305.2 182.6L307.8 190.2L327.1 184.9L346.5 179.6L365.8 174.4L385.1 169.1Z" fill="#111111"/><path d="M53.3 228.7L74.1 227.3L95 226L115.8 224.7L136.6 223.4L136.1 215.4L115.3 216.7L94.4 218L73.6 219.3L52.8 220.7Z" fill="#111111"/><path d="M376.3 309.4L357.5 299.5L338.6 289.6L319.8 279.6L301 269.7L296.8 276.6L314.4 288.6L331.9 300.7L349.4 312.7L367 324.8Z" fill="#111111"/><path d="M223.6 404.9L222.7 382.2L221.8 359.4L221 336.7L220.1 314L214.1 314.1L214 336.8L213.8 359.6L213.7 382.3L213.6 405.1Z" fill="#111111"/></g><path d="M134.1 -5.1L142.5 21.3L150.9 47.7L159.2 74.1L168.7 100.1L178.3 126.2L187.8 152.2L192.5 150.8L186.2 123.8L179.9 96.8L173.6 69.8L166.2 43.1L158.8 16.4L151.3 -10.2Z" fill="#131313"/><path d="M136.3 -5.8L144.6 20.7L152.9 47.1L161.1 73.5L170.2 99.7L179.3 125.9L188.4 152L191.9 151L185.2 124.1L178.5 97.2L171.8 70.3L164.2 43.7L156.6 17.1L149.1 -9.6Z" fill="#2a2a2a"/><path d="M139.4 -6.7L147.5 19.8L155.6 46.3L163.7 72.7L172.2 99.1L180.7 125.4L189.2 151.8L191.1 151.2L183.8 124.5L176.5 97.8L169.2 71.1L161.4 44.5L153.7 17.9L146 -8.6Z" fill="#424242"/><path d="M175 -7.7L177.3 11.7L179.6 31.1L181.8 50.5L184.1 69.8L187.1 69.6L185.6 50.1L184 30.6L182.5 11.2L181 -8.3Z" fill="#111111"/><path d="M206.6 -8L206.9 19.2L207.2 46.4L207.8 73.6L208.8 100.8L209.8 128L213.8 128L214.8 100.8L215.8 73.6L216.5 46.4L216.8 19.2L217.1 -8Z" fill="#131313"/><path d="M207.9 -8L208.1 19.2L208.4 46.4L208.8 73.6L209.6 100.8L210.3 128L213.3 128L214 100.8L214.8 73.6L215.2 46.4L215.5 19.2L215.7 -8Z" fill="#2a2a2a"/><path d="M209.8 -8L209.9 19.2L210 46.4L210.3 73.6L210.7 100.8L211 128L212.6 128L212.9 100.8L213.3 73.6L213.6 46.4L213.7 19.2L213.8 -8Z" fill="#3b3b3b"/><path d="M214.5 135.7L214 142.7L213.5 149.8L213 156.8L212.5 163.8L217.5 164.2L218.2 157.2L219 150.2L219.7 143.3L220.5 136.3Z" fill="#191919"/><path d="M215.9 135.9L215.3 142.9L214.7 149.9L214.2 156.9L213.6 163.9L216.4 164.1L217.1 157.1L217.8 150.1L218.4 143.1L219.1 136.1Z" fill="#454545"/><path d="M61.2 -1.6L75.2 19.9L89.3 41.3L103.4 62.8L118 83.9L133.1 104.7L148.2 125.5L163.4 146.3L168.4 143.1L155.9 120.6L143.4 98.1L131 75.6L117.9 53.5L104.3 31.7L90.8 9.9L77.2 -11.9Z" fill="url(#r1)"/><path d="M63.3 -3L77.3 18.6L91.2 40.1L105.2 61.6L119.6 82.9L134.4 103.9L149.2 124.9L164 145.9L167.8 143.5L154.9 121.2L142.1 99L129.3 76.7L116 54.7L102.4 33L88.7 11.2L75.1 -10.5Z" fill="url(#r2)"/><path d="M66.1 -4.8L80 16.8L94 38.4L107.9 59.9L122 81.4L136.3 102.7L150.6 124L164.9 145.3L166.9 144.1L153.6 122.1L140.2 100.2L126.9 78.2L113.4 56.4L99.7 34.7L85.9 13L72.2 -8.7Z" fill="url(#r3)"/><path d="M-14.5 51.6L8.6 67.5L31.8 83.5L54.9 99.5L78 115.5L101.5 130.9L125.1 146.3L148.6 161.7L172.2 177.1L176.3 171.4L154.7 153.4L133.1 135.4L111.5 117.4L89.8 99.4L67.8 82L45.7 64.6L23.7 47.2L1.6 29.8Z" fill="#131313"/><path d="M-12.4 48.7L10.6 64.9L33.6 81.1L56.5 97.2L79.5 113.4L102.8 129.1L126.1 144.9L149.4 160.6L172.7 176.3L175.8 172.2L153.9 154.5L132 136.8L110.2 119.2L88.3 101.5L66.1 84.3L43.9 67.1L21.7 49.9L-0.5 32.7Z" fill="#2a2a2a"/><path d="M-9.5 44.8L13.3 61.3L36.1 77.7L58.9 94.1L81.6 110.5L104.6 126.7L127.5 142.9L150.5 159.1L173.5 175.3L175 173.2L152.8 156L130.6 138.8L108.4 121.6L86.2 104.4L63.8 87.5L41.4 70.5L19 53.5L-3.4 36.6Z" fill="#424242"/><path d="M97.8 97.1L113.5 117.8L129.2 138.5L144.8 159.3L160.5 180L163.7 177.6L148.3 156.6L133 135.7L117.6 114.8L102.2 93.8Z" fill="#111111"/><path d="M98.8 96.4L114.4 117.1L130 137.9L145.6 158.7L161.2 179.4L163 178.1L147.6 157.2L132.1 136.3L116.7 115.4L101.2 94.6Z" fill="#262626"/><path d="M-9.4 92L13.2 104.1L35.8 116.3L58.4 128.5L81.1 140.7L82.6 138.1L60.8 124.4L39.1 110.7L17.4 97L-4.4 83.3Z" fill="#0a0a0a"/><path d="M-8.3 90L14.1 102.5L36.6 115.1L59 127.6L81.4 140.1L82.2 138.7L60.3 125.3L38.4 112L16.4 98.6L-5.5 85.3Z" fill="#161616"/><path d="M-11.2 138L13 146.7L37.2 155.5L61.4 164.2L85.8 172.5L110.4 180.3L134.9 188.2L159.5 196L161.7 190.4L138.2 179.6L114.8 168.9L91.4 158.1L67.7 147.8L43.9 138L20.1 128.2L-3.7 118.4Z" fill="#131313"/><path d="M-10.3 135.4L13.9 144.3L38.1 153.2L62.2 162.1L86.5 170.6L110.9 178.8L135.4 187.1L159.8 195.3L161.4 191.1L137.8 180.7L114.2 170.4L90.6 160L66.9 150L43.1 140.3L19.2 130.6L-4.7 120.9Z" fill="#2a2a2a"/><path d="M-8.9 131.9L15.2 141L39.3 150.1L63.4 159.1L87.5 168.1L111.7 176.8L136 185.5L160.2 194.2L161 192.1L137.2 182.3L113.4 172.4L89.6 162.6L65.8 152.9L41.8 143.4L17.9 133.9L-6 124.5Z" fill="#424242"/><path d="M-8.5 202.4L19.3 203.9L47.2 205.4L75 206.8L102.9 207.9L130.7 209L131.4 200.1L103.6 197.3L75.9 194.6L48.1 192.1L20.3 189.7L-7.5 187.4Z" fill="#131313"/><path d="M-8.4 200.4L19.5 202.1L47.3 203.7L75.1 205.2L103 206.5L130.8 207.9L131.3 201.2L103.5 198.7L75.8 196.2L48 193.8L20.2 191.6L-7.6 189.4Z" fill="#2a2a2a"/><path d="M-8.2 197.7L19.6 199.5L47.5 201.3L75.3 203L103.1 204.6L130.9 206.3L131.2 202.8L103.4 200.6L75.6 198.4L47.8 196.2L20 194.1L-7.8 192.1Z" fill="#404040"/><path d="M273.3 -9.3L263.1 17.8L252.8 44.9L244.8 72.6L239 101L233.2 129.4L238.9 131.2L250.1 104.4L261.3 77.7L270.2 50.2L277 22.1L283.8 -6Z" fill="url(#r4)"/><path d="M274.6 -8.8L264.9 18.4L255.1 45.6L247 73.2L240.4 101.4L233.9 129.6L238.2 131L248.6 104L259.1 77L268 49.5L275.2 21.5L282.4 -6.4Z" fill="url(#r5)"/><path d="M276.5 -8.3L267.4 19.1L258.2 46.5L249.9 74.2L242.4 102.1L234.9 130L237.1 130.6L246.6 103.4L256.2 76.1L264.8 48.6L272.7 20.8L280.5 -7Z" fill="url(#r6)"/><path d="M347.4 -11.6L331.4 11.3L315.5 34.2L299.6 57.1L284.8 80.9L271.3 105.4L257.7 129.9L244.1 154.4L249.1 157.7L266.5 135.7L283.9 113.8L301.2 91.8L317.4 69L332.4 45.4L347.4 21.9L362.3 -1.7Z" fill="#131313"/><path d="M349.3 -10.3L333.5 12.7L317.7 35.7L301.9 58.7L286.9 82.3L272.9 106.5L258.8 130.6L244.8 154.8L248.5 157.3L265.4 135L282.2 112.7L299.1 90.4L315.1 67.5L330.2 44L345.3 20.5L360.4 -3Z" fill="#2a2a2a"/><path d="M352 -8.6L336.4 14.6L320.7 37.7L305.1 60.8L289.9 84.2L275.2 108L260.4 131.7L245.7 155.4L247.6 156.7L263.8 133.9L280 111.2L296.1 88.4L311.9 65.3L327.1 42L342.4 18.6L357.7 -4.8Z" fill="#424242"/><path d="M412.9 -9.5L392.8 10.8L372.7 31.1L352.6 51.5L332.4 71.8L312.3 92.1L315.8 95.7L336.8 76.3L357.7 56.8L378.7 37.3L399.6 17.9L420.6 -1.6Z" fill="#0a0a0a"/><path d="M414.7 -7.7L394.4 12.4L374 32.5L353.7 52.7L333.4 72.8L313.1 93L315 94.9L335.8 75.3L356.6 55.6L377.3 35.9L398.1 16.3L418.9 -3.4Z" fill="#161616"/><path d="M422.9 31.1L401.6 49.2L380.3 67.3L359 85.3L337.8 103.4L317 122L296.2 140.7L275.4 159.3L254.6 178L258.4 182.6L280.8 165.9L303.1 149.2L325.5 132.5L347.9 115.8L369.8 98.5L391.7 81.2L413.6 63.9L435.5 46.6Z" fill="#131313"/><path d="M424.5 33.1L403.1 51.1L381.8 69.1L360.4 87L339.1 105L318.1 123.4L297.1 141.8L276.1 160.2L255.1 178.6L257.9 182L280.1 165.1L302.2 148.1L324.4 131.1L346.6 114.2L368.4 96.8L390.2 79.4L412.1 62L433.9 44.6Z" fill="#2a2a2a"/><path d="M426.8 35.9L405.3 53.8L383.8 71.6L362.4 89.4L340.9 107.2L319.6 125.3L298.3 143.3L277 161.4L255.8 179.4L257.2 181.2L279.1 163.9L301 146.6L322.9 129.3L344.8 111.9L366.5 94.4L388.2 76.9L409.9 59.3L431.6 41.8Z" fill="#424242"/><path d="M343.1 128.1L327.3 137.3L311.4 146.5L295.6 155.7L279.7 164.9L281.7 168.4L297.7 159.4L313.7 150.4L329.6 141.5L345.6 132.5Z" fill="#111111"/><path d="M427.5 120.7L403.4 128.9L379.4 137.1L355.3 145.3L332.1 155.9L308.8 166.4L285.6 177L288 183.6L312.6 177.1L337.3 170.6L362 164.1L385.9 155.3L409.7 146.5L433.6 137.6Z" fill="url(#r7)"/><path d="M428.3 122.9L404.3 131.2L380.2 139.5L356.2 147.7L332.8 157.8L309.3 167.8L285.9 177.9L287.7 182.7L312.2 175.7L336.6 168.7L361.1 161.7L385 152.9L408.9 144.2L432.8 135.4Z" fill="url(#r8)"/><path d="M429.4 125.9L405.4 134.3L381.4 142.7L357.4 151.1L333.7 160.4L310 169.7L286.3 179.1L287.2 181.6L311.5 173.8L335.7 166.1L359.9 158.3L383.9 149.7L407.8 141L431.7 132.4Z" fill="url(#r9)"/><path d="M430.4 186L404.7 188.2L378.9 190.5L353.2 192.8L327.4 195.2L301.7 197.6L275.9 200.1L276.5 209L302.3 208.3L328.2 207.5L354 206.7L379.9 205.8L405.7 204.9L431.5 203.9Z" fill="#131313"/><path d="M430.6 188.3L404.8 190.4L379 192.5L353.3 194.6L327.5 196.8L301.7 199L276 201.2L276.4 207.9L302.2 206.9L328.1 205.9L353.9 204.9L379.7 203.8L405.6 202.7L431.4 201.6Z" fill="#2a2a2a"/><path d="M430.8 191.5L405 193.4L379.2 195.2L353.4 197.1L327.6 199L301.9 200.9L276.1 202.8L276.3 206.3L302.1 205L327.9 203.7L353.7 202.4L379.6 201.1L405.4 199.7L431.2 198.4Z" fill="#424242"/><path d="M254.8 183.6L260.3 181L265.9 178.5L271.5 176L277.1 173.5L275.3 168.9L269.5 170.9L263.7 173L257.9 175L252.2 177.1Z" fill="#191919"/><path d="M254.2 182.1L259.8 179.7L265.4 177.3L271.1 174.9L276.7 172.5L275.7 169.9L269.9 172.1L264.2 174.2L258.5 176.4L252.7 178.5Z" fill="#424242"/><path d="M135.2 223.3L142 222.5L148.8 221.8L155.6 221.1L162.4 220.3L161.8 212.3L155 212.6L148.2 212.8L141.3 213.1L134.5 213.3Z" fill="#202020"/><path d="M135 221L141.9 220.4L148.7 219.8L155.5 219.2L162.3 218.5L162 214.1L155.1 214.5L148.3 214.8L141.5 215.2L134.7 215.6Z" fill="#525252"/><path d="M143.8 234.2L147.1 233.5L150.5 232.8L153.9 232.1L157.3 231.4L156.3 225.5L152.9 225.9L149.5 226.4L146 226.8L142.6 227.3Z" fill="#191919"/><path d="M143.5 232.6L146.9 232L150.3 231.4L153.7 230.7L157.1 230.1L156.5 226.8L153.1 227.3L149.7 227.8L146.3 228.3L142.9 228.8Z" fill="#424242"/><path d="M-6.7 265.9L19 261.1L44.8 256.4L70.4 251.2L96 245.6L121.6 240L120.8 235.1L94.8 237.9L68.7 240.7L42.7 243.9L16.8 247.5L-9.1 251.1Z" fill="#131313"/><path d="M-7 264L18.7 259.4L44.5 254.7L70.2 249.8L95.9 244.6L121.5 239.4L120.9 235.7L94.9 238.9L68.9 242.1L43 245.5L17.1 249.3L-8.8 253Z" fill="#2a2a2a"/><path d="M-7.4 261.3L18.3 256.9L44.1 252.5L69.9 247.9L95.6 243.2L121.4 238.5L121.1 236.6L95.2 240.3L69.2 243.9L43.4 247.8L17.5 251.7L-8.4 255.7Z" fill="#3b3b3b"/><path d="M-1.8 344.2L21.5 331L44.9 317.8L68.2 304.6L91.3 290.9L114.1 276.6L136.9 262.4L159.8 248.2L156.9 242.9L132.5 254.1L108 265.3L83.6 276.5L59.4 288.2L35.5 300.4L11.6 312.6L-12.3 324.8Z" fill="#131313"/><path d="M-3.2 341.7L20.2 328.6L43.7 315.5L67.1 302.5L90.3 289L113.3 275.2L136.4 261.4L159.4 247.5L157.3 243.6L133.1 255.2L108.8 266.8L84.6 278.4L60.6 290.3L36.8 302.7L12.9 315L-10.9 327.3Z" fill="#2a2a2a"/><path d="M-5.1 338.2L18.5 325.3L42 312.4L65.5 299.5L88.9 286.4L112.2 273.1L135.6 259.9L158.9 246.6L157.8 244.6L133.9 256.7L109.9 268.8L86 281L62.2 293.3L38.4 305.8L14.7 318.3L-9 330.8Z" fill="#424242"/><path d="M-6.3 298.4L12.4 292L31.2 285.7L49.9 279.4L68.6 273.1L67.8 270.2L48.6 274.8L29.3 279.5L10.1 284.1L-9.1 288.8Z" fill="#0a0a0a"/><path d="M-6.9 296.2L11.9 290.3L30.7 284.3L49.6 278.4L68.4 272.4L68 270.8L48.9 275.9L29.8 280.9L10.7 285.9L-8.4 290.9Z" fill="#161616"/><path d="M10.4 435.4L29.1 416.3L47.8 397.2L66.4 378.1L85.1 359L102.2 338.4L119.4 317.9L136.5 297.3L153.7 276.7L149.4 272.6L129.5 290.6L109.7 308.5L89.8 326.5L70 344.4L51.6 363.9L33.3 383.3L15 402.8L-3.3 422.2Z" fill="url(#r10)"/><path d="M8.6 433.6L27.3 414.5L45.9 395.4L64.5 376.2L83.1 357.1L100.6 336.9L118.1 316.7L135.6 296.4L153.1 276.2L149.9 273.1L130.4 291.4L110.9 309.7L91.4 328L71.9 346.3L53.6 365.7L35.2 385.1L16.8 404.5L-1.5 423.9Z" fill="url(#r11)"/><path d="M6.2 431.3L24.7 412.1L43.3 392.9L61.8 373.7L80.4 354.5L98.4 334.7L116.4 315L134.4 295.2L152.3 275.5L150.7 273.9L131.7 292.6L112.7 311.4L93.7 330.2L74.7 349L56.2 368.3L37.8 387.6L19.4 406.9L0.9 426.3Z" fill="url(#r12)"/><path d="M118.5 434.7L130 408L141.6 381.3L152.7 354.4L163.3 327.3L173.9 300.2L168.5 297.6L154.3 323L140 348.4L126.2 374.1L112.9 399.9L99.5 425.7Z" fill="#131313"/><path d="M116 433.6L127.8 407L139.6 380.4L151 353.7L162.1 326.8L173.2 299.9L169.2 298L155.4 323.6L141.6 349.2L128.2 375L115.1 401L102 426.9Z" fill="#2a2a2a"/><path d="M112.6 431.9L124.7 405.5L136.8 379.1L148.7 352.6L160.5 326L172.2 299.4L170.2 298.4L157.1 324.4L143.9 350.3L131 376.3L118.2 402.4L105.4 428.5Z" fill="#3d3d3d"/><path d="M150 431.5L154.5 413.6L159.1 395.7L163.6 377.8L168.1 359.9L165.2 359.1L160 376.8L154.7 394.5L149.5 412.2L144.2 429.9Z" fill="#111111"/><path d="M189.9 432.3L192.5 405.9L195 379.5L197.6 353L199.5 326.5L201.4 300L203.2 273.5L198.3 272.8L193.1 298.9L187.9 325L182.7 351L178.2 377.2L173.7 403.4L169.1 429.5Z" fill="#131313"/><path d="M187.2 432L190 405.6L192.8 379.2L195.6 352.8L198 326.3L200.3 299.9L202.6 273.4L198.9 272.9L194.2 299L189.4 325.2L184.6 351.3L180.4 377.5L176.1 403.7L171.8 429.9Z" fill="#2a2a2a"/><path d="M183.5 431.5L186.7 405.1L189.8 378.8L193 352.4L195.9 326L198.8 299.7L201.7 273.3L199.8 273L195.7 299.2L191.5 325.4L187.3 351.7L183.4 377.9L179.5 404.2L175.6 430.4Z" fill="#424242"/><path d="M176.9 254.2L174.8 260.4L172.7 266.6L170.7 272.8L168.6 279L173.2 280.9L176 275L178.8 269.1L181.5 263.1L184.3 257.2Z" fill="#202020"/><path d="M178.6 254.9L176.3 261L174.1 267.2L171.9 273.3L169.6 279.5L172.2 280.5L174.8 274.5L177.4 268.5L180 262.5L182.6 256.5Z" fill="#525252"/><path d="M433 253.6L405.8 247.2L378.6 240.8L351.4 234.4L324.1 228.5L296.8 222.6L269.5 216.7L267.7 223.5L294.5 231.7L321.2 239.8L347.9 248L374.8 255.7L401.6 263.3L428.5 271Z" fill="#131313"/><path d="M432.4 255.8L405.3 249.3L378.1 242.7L351 236.2L323.7 230L296.5 223.8L269.3 217.6L268 222.6L294.8 230.5L321.6 238.4L348.4 246.2L375.3 253.7L402.2 261.2L429.1 268.7Z" fill="#2a2a2a"/><path d="M431.6 259L404.5 252.2L377.4 245.4L350.3 238.6L323.2 232L296.1 225.4L268.9 218.8L268.3 221.4L295.2 228.9L322.1 236.3L349 243.8L376 251.1L402.9 258.3L429.9 265.6Z" fill="#404040"/><path d="M255 231.5L261.4 233.9L267.9 236.3L274.3 238.6L280.8 241L283.7 234.7L277.6 231.4L271.6 228.1L265.6 224.8L259.5 221.5Z" fill="#202020"/><path d="M256 229.2L262.4 231.8L268.7 234.4L275.1 237L281.4 239.6L283 236.1L276.9 233L270.8 229.9L264.6 226.8L258.5 223.7Z" fill="#525252"/><path d="M431.3 222.2L412.7 221.1L394 220L375.3 218.9L356.6 217.9L356.3 220.9L374.9 223.2L393.5 225.5L412 227.8L430.6 230.1Z" fill="#111111"/><path d="M433.9 330L409.5 315.6L385.2 301.3L360.8 286.9L335.2 274.8L309.6 262.6L284 250.4L280.5 256.5L304.2 272.2L327.8 287.8L351.4 303.5L376.3 316.9L401.2 330.4L426 343.9Z" fill="url(#r13)"/><path d="M432.9 331.8L408.4 317.5L384 303.3L359.6 289.1L334.2 276.4L308.9 263.8L283.5 251.2L281 255.7L304.9 270.9L328.8 286.1L352.6 301.3L377.4 314.9L402.2 328.5L427.1 342.1Z" fill="url(#r14)"/><path d="M431.5 334.3L406.9 320.2L382.4 306.1L357.9 292.1L332.9 278.8L307.9 265.5L282.9 252.3L281.6 254.6L305.8 269.2L330.1 283.8L354.3 298.3L379 312.1L403.8 325.8L428.5 339.6Z" fill="url(#r15)"/><path d="M431.6 422.7L412.6 403.6L393.7 384.5L374.7 365.3L355.7 346.2L336.2 327.7L316 309.7L295.9 291.8L275.7 273.8L255.6 255.9L251.3 260.1L269.1 280.4L286.9 300.7L304.7 321L322.4 341.3L340.8 361L359.8 380.1L378.7 399.2L397.7 418.4L416.7 437.5Z" fill="url(#r16)"/><path d="M429.6 424.6L410.7 405.5L391.7 386.4L372.8 367.3L353.8 348.1L334.4 329.5L314.6 311.2L294.7 292.9L274.9 274.7L255 256.4L251.9 259.6L270 279.6L288.1 299.5L306.1 319.5L324.2 339.5L342.8 359.1L361.7 378.2L380.7 397.3L399.7 416.4L418.6 435.6Z" fill="url(#r17)"/><path d="M427 427.3L408 408.2L389 389L370.1 369.9L351.1 350.8L331.9 331.9L312.5 313.2L293.1 294.5L273.7 275.9L254.3 257.2L252.6 258.8L271.2 278.4L289.7 297.9L308.2 317.5L326.7 337.1L345.4 356.4L364.4 375.5L383.4 394.7L402.3 413.8L421.3 432.9Z" fill="url(#r18)"/><path d="M321.6 426.4L308.7 399.6L295.8 372.9L282.6 346.3L269.2 319.8L255.7 293.4L251.2 295.4L261.3 323.3L271.4 351.2L281.8 379L292.5 406.6L303.2 434.3Z" fill="#131313"/><path d="M319.2 427.4L306.6 400.6L294 373.7L281.2 347L268.2 320.3L255.2 293.6L251.8 295.1L262.3 322.8L272.9 350.5L283.7 378.2L294.6 405.7L305.6 433.3Z" fill="#2a2a2a"/><path d="M315.9 428.8L303.7 401.8L291.5 374.8L279.2 347.8L266.7 320.9L254.3 294L252.6 294.7L263.7 322.2L274.9 349.7L286.2 377.1L297.5 404.5L308.9 431.9Z" fill="#3d3d3d"/><path d="M358.1 427L343 402.3L327.8 377.6L312.7 352.9L297.6 328.2L294.1 330.2L307.5 355.9L320.9 381.6L334.3 407.2L347.6 432.9Z" fill="#111111"/><path d="M249.2 429.8L245.1 402L241.1 374.1L236.5 346.4L231.3 318.7L226.1 291L220.2 291.7L221.4 319.8L222.6 348L224.4 376.1L226.9 404.1L229.3 432.1Z" fill="#131313"/><path d="M246.6 430.1L242.8 402.2L239 374.4L234.7 346.6L230 318.8L225.4 291.1L220.9 291.6L222.7 319.7L224.4 347.8L226.6 375.8L229.2 403.8L231.9 431.8Z" fill="#2a2a2a"/><path d="M243 430.5L239.5 402.6L236 374.7L232.2 346.9L228.3 319L224.3 291.2L222 291.5L224.5 319.5L226.9 347.5L229.6 375.5L232.5 403.4L235.4 431.4Z" fill="#3d3d3d"/><path d="M222.1 258.5L224.4 265L226.6 271.5L228.9 278L231.2 284.5L237 283L235.7 276.2L234.4 269.5L233.1 262.7L231.8 255.9Z" fill="#202020"/><path d="M224.3 258L226.3 264.5L228.4 271.1L230.4 277.6L232.5 284.2L235.7 283.3L234.1 276.6L232.6 269.9L231.1 263.2L229.6 256.5Z" fill="#525252"/><path d="M236.4 262.6L238.7 267.4L241.1 272.1L243.5 276.9L245.8 281.6L250.5 279.8L249.1 274.7L247.6 269.6L246.2 264.5L244.8 259.4Z" fill="#151515"/><path d="M238.3 261.9L240.4 266.7L242.6 271.6L244.7 276.4L246.9 281.2L249.4 280.2L247.8 275.2L246.2 270.2L244.5 265.2L242.9 260.1Z" fill="#333333"/><path d="M238.1 287.4L242.7 305.5L247.3 323.6L251.9 341.7L256.5 359.9L259.5 359.2L255.3 340.9L251.2 322.7L247.1 304.4L243 286.2Z" fill="#111111"/><circle cx="210.9" cy="211.4" r="13" fill="url(#gc)"/>
</g></g>
<rect x="92.8" y="443.9" width="423.4" height="0.9" fill="#262626" opacity="0.8"/>
<rect x="532.6" y="21.4" width="37.2" height="422.6" fill="url(#cb)" stroke="#111" stroke-width="1.3"/>
<rect x="565.6" y="126.2" width="4.2" height="1" fill="#111"/>
<rect x="565.6" y="232" width="4.2" height="1" fill="#111"/>
<rect x="565.6" y="337.8" width="4.2" height="1" fill="#111"/>
<text class="t" x="580.3" y="29.7">0</text>
<text class="t" x="580.3" y="135.4">-5</text>
<text class="t" x="580.3" y="241.2">-10</text>
<text class="t" x="580.3" y="346.9">-15</text>
<text class="t" x="580.3" y="452.7">-20</text>
<text class="t" text-anchor="middle" x="133.9" y="478.8">-2</text>
<text class="t" text-anchor="middle" x="217.6" y="478.8">-1</text>
<text class="t" text-anchor="middle" x="304.1" y="478.8">0</text>
<text class="t" text-anchor="middle" x="388.4" y="478.8">1</text>
<text class="t" text-anchor="middle" x="472.8" y="478.8">2</text>
<text class="t" text-anchor="end" x="82.4" y="71.8">2</text>
<text class="t" text-anchor="end" x="82.4" y="156.4">1</text>
<text class="t" text-anchor="end" x="82.4" y="241">0</text>
<text class="t" text-anchor="end" x="82.4" y="325.6">-1</text>
<text class="t" text-anchor="end" x="82.4" y="410.2">-2</text>
<text class="l" x="93.6" y="532.8" textLength="180.2" lengthAdjust="spacingAndGlyphs">Horizontal</text>
<text class="l" x="286.4" y="532.8" textLength="160" lengthAdjust="spacingAndGlyphs">Direction</text>
<text class="l" x="461.5" y="532.8" textLength="53.9" lengthAdjust="spacingAndGlyphs">[m]</text>
<text class="l" transform="translate(32.8,420.6) rotate(-90)" textLength="133" lengthAdjust="spacingAndGlyphs">Vertical</text>
<text class="l" transform="translate(32.8,271.8) rotate(-90)" textLength="160" lengthAdjust="spacingAndGlyphs">Direction</text>
<text class="l" transform="translate(32.8,97.6) rotate(-90)" textLength="52.6" lengthAdjust="spacingAndGlyphs">[m]</text>
<text class="l" transform="translate(676.8,307.1) rotate(-90)" textLength="75.5" lengthAdjust="spacingAndGlyphs">SPL</text>
<text class="l" transform="translate(676.8,219.8) rotate(-90)" textLength="68.9" lengthAdjust="spacingAndGlyphs">[dB]</text>
<text class="c" x="278.6" y="592.3">(c)</text>
</g>
<g transform="translate(731.5,647)">
<g transform="translate(93,21)" clip-path="url(#pc)"><g filter="url(#pm)">
<rect x="-12" y="-12" width="447" height="447" fill="#000000"/>
<path d="M-2.3 -3.2L16.2 16.5L34.9 36.2L54.4 55.1L74.7 73L94.1 91.7L112.9 111.2L133.7 128.6L136 125.9L115.8 108.2L97.5 88.3L78.4 69.1L58.6 50.7L39.6 31.6L21.6 11.6L3.6 -8.6Z" fill="#0f0f0f"/><path d="M-0.9 -4.4L17.4 15.4L35.9 35.2L55.4 54.1L75.6 72.1L94.9 90.9L113.6 110.5L134.2 128L135.5 126.5L115.2 108.9L96.8 89.1L77.6 69.9L57.6 51.7L38.6 32.6L20.4 12.7L2.3 -7.4Z" fill="#222222"/><path d="M49 -3.1L66.4 19.8L85.3 41.7L104.4 62.7L120.9 85.6L135.7 109.8L150 134.6L154.6 132.1L141.4 106.6L127.3 81.5L111.3 57.3L92.6 35.4L74.7 13.3L58.2 -9.9Z" fill="#151515"/><path d="M51.1 -4.6L68.3 18.4L86.9 40.3L105.9 61.5L122.3 84.6L137 109.1L151 134L153.5 132.6L140.1 107.3L125.9 82.4L109.7 58.5L91 36.8L72.9 14.8L56.2 -8.3Z" fill="#303030"/><path d="M142 -6.2L149.4 17.7L155.2 41.7L159.2 66.4L163.4 91.1L166.9 90.7L164.9 65.7L163 40.5L159.3 15.4L153.9 -9.3Z" fill="url(#r19)"/><path d="M144.7 -6.9L151.6 17.1L156.9 41.5L160.5 66.2L164.2 91L166.1 90.8L163.6 65.8L161.2 40.8L157 15.9L151.2 -8.6Z" fill="url(#r20)"/><path d="M-9.9 129.6L16.8 139L42.3 151L66.9 165.7L93.4 177L94.5 174.6L69.3 161.5L45.9 144.9L21.2 129.9L-4.9 117.4Z" fill="url(#r21)"/><path d="M-8.8 126.9L17.8 137L43.2 149.6L67.4 164.7L93.6 176.4L94.2 175.1L68.7 162.4L45.1 146.3L20.2 132L-6 120.2Z" fill="url(#r22)"/><path d="M-8.1 201.9L22.1 202.2L52.1 202.9L81.9 205.9L111.7 210.5L112.6 205.3L82.8 199.8L52.6 195.9L22.3 194.3L-7.9 193.1Z" fill="#151515"/><path d="M-8.1 199.9L22.1 200.4L52.2 201.4L82.1 204.5L111.9 209.3L112.4 206.4L82.6 201.2L52.5 197.5L22.3 196.1L-7.9 195.1Z" fill="#303030"/><path d="M17.4 54.1L25.4 60.4L33.4 66.8L41.4 73.1L49.4 79.5L50.6 78.1L42.7 71.6L34.8 65.1L26.9 58.5L19 52Z" fill="#131313"/><path d="M81.5 123.7L90 129.6L98.4 135.5L106.9 141.4L115.4 147.2L118 143.7L109.8 137.4L101.6 131.2L93.3 125L85.1 118.7Z" fill="#121212"/><path d="M82.3 122.6L90.7 128.5L99.1 134.5L107.6 140.5L116 146.4L117.4 144.5L109.1 138.3L100.9 132.2L92.6 126L84.3 119.8Z" fill="#292929"/><path d="M123.6 145.2L128.5 148.7L133.4 152.1L138.2 155.5L143.1 158.9L146.3 154.7L141.7 150.9L137.1 147.2L132.5 143.4L127.9 139.6Z" fill="#191919"/><path d="M124.6 144L129.4 147.5L134.2 151L139 154.5L143.8 158L145.6 155.7L140.9 152L136.3 148.3L131.6 144.6L126.9 140.9Z" fill="#3c3c3c"/><path d="M146.9 104.7L150.9 111.8L154.9 118.9L158.8 126L162.8 133L167.5 130.6L163.9 123.3L160.3 116L156.7 108.7L153.1 101.4Z" fill="#181818"/><path d="M148.3 103.9L152.2 111.1L156.1 118.2L160 125.4L163.9 132.5L166.4 131.1L162.8 123.9L159.1 116.6L155.4 109.4L151.7 102.1Z" fill="#373737"/><path d="M199.6 54.6L200 65.2L200.4 75.8L200.9 86.4L201.3 97L204.8 96.9L204.6 86.3L204.4 75.7L204.2 65.1L204 54.5Z" fill="#141414"/><path d="M200.6 54.6L201 65.2L201.3 75.8L201.7 86.4L202.1 97L204 96.9L203.8 86.3L203.5 75.7L203.3 65.1L203 54.5Z" fill="#2e2e2e"/><path d="M208 104.5L208.1 110.4L208.2 116.3L208.3 122.2L208.4 128L212.8 128L212.9 122.2L213 116.3L213.1 110.4L213.2 104.5Z" fill="#181818"/><path d="M209.2 104.5L209.2 110.4L209.3 116.3L209.3 122.2L209.4 128L211.8 128L211.9 122.2L211.9 116.3L212 110.4L212.1 104.5Z" fill="#373737"/><path d="M191.8 91.1L192.6 98.7L193.5 106.3L194.4 113.8L195.2 121.4L198.7 121L198.1 113.5L197.4 105.9L196.8 98.3L196.1 90.7Z" fill="#0e0e0e"/><path d="M192.7 91L193.6 98.6L194.4 106.2L195.2 113.7L196 121.3L197.9 121.1L197.2 113.5L196.5 106L195.8 98.4L195.1 90.8Z" fill="#1e1e1e"/><path d="M178.6 79L179.5 85.8L180.4 92.6L181.4 99.4L182.3 106.2L184.9 105.9L184.2 99.1L183.5 92.2L182.8 85.4L182.1 78.6Z" fill="#131313"/><path d="M84.1 193.3L91.9 194.6L99.7 196L107.5 197.4L115.3 198.8L116.5 192.7L108.8 190.9L101.1 189.1L93.4 187.3L85.6 185.5Z" fill="#181818"/><path d="M84.4 191.5L92.2 193L100 194.5L107.8 195.9L115.6 197.4L116.2 194.1L108.5 192.4L100.8 190.7L93 189L85.3 187.3Z" fill="#373737"/><path d="M96.4 162.1L105.2 163.5L113.9 164.9L122.7 166.2L131.4 167.6L132.2 163.3L123.5 161.5L114.9 159.7L106.2 157.9L97.5 156.1Z" fill="#0e0e0e"/><path d="M96.7 160.8L105.4 162.2L114.1 163.7L122.9 165.2L131.6 166.6L132 164.3L123.3 162.6L114.7 160.8L106 159.1L97.3 157.4Z" fill="#202020"/><path d="M354.8 -10.5L339.9 15.3L324.5 40.4L306.4 63.6L287.3 86L264.3 104.3L266.9 107.8L291.4 90.6L312.4 68.8L332.4 46.3L350 21.7L366.7 -3.1Z" fill="url(#r23)"/><path d="M356.3 -9.5L341.2 16.1L325.6 41.2L307.2 64.3L287.8 86.6L264.6 104.8L266.6 107.4L290.9 90L311.6 68.2L331.4 45.5L348.7 20.9L365.1 -4Z" fill="url(#r24)"/><path d="M358.5 -8.2L343 17.3L327 42.2L308.3 65.3L288.6 87.4L265.1 105.4L266.1 106.7L290.1 89.2L310.6 67.2L330 44.5L346.8 19.7L363 -5.4Z" fill="url(#r25)"/><path d="M270.6 -8.4L265.2 16L259.3 40.1L251.2 63.4L242.5 86.7L233.5 110.1L240.1 112.6L249.4 89.4L258.5 66.1L266.4 42.1L271.4 17.3L275.8 -7.3Z" fill="#171717"/><path d="M271.8 -8.1L266.6 16.3L260.9 40.5L252.9 64L244 87.3L235 110.7L238.6 112.1L247.8 88.8L256.9 65.5L264.8 41.6L270 17L274.6 -7.6Z" fill="#353535"/><path d="M237.7 -8.2L235.3 16.5L232.9 41.3L230.9 66L229 90.8L232.5 91.1L234.6 66.3L236.9 41.6L239.4 16.9L242.1 -7.7Z" fill="#0b0b0b"/><path d="M238.7 -8.1L236.2 16.6L233.8 41.3L231.7 66.1L229.8 90.8L231.7 91L233.8 66.3L236 41.5L238.5 16.9L241.1 -7.8Z" fill="#181818"/><path d="M428.2 78.8L405 93L381.8 107.3L358.8 121.9L336 136.7L312.7 150.8L315.4 155.3L338.8 141.3L361.8 126.7L384.9 112.3L408.1 98.2L431.4 84.1Z" fill="#111111"/><path d="M429 80L405.7 94.2L382.5 108.4L359.5 123L336.6 137.7L313.3 151.8L314.8 154.3L338.2 140.3L361.1 125.6L384.2 111.2L407.4 97L430.7 82.9Z" fill="#272727"/><path d="M428.1 115.7L404.2 129.4L380 142.2L354.5 151.8L328.1 158.8L301 164.2L302.8 172.8L330 167L357 159.5L383.2 149.2L407.8 135.8L431.7 121.7Z" fill="#171717"/><path d="M428.9 117L405 130.8L380.7 143.8L355.1 153.5L328.5 160.6L301.4 166.1L302.4 170.9L329.6 165.1L356.5 157.8L382.5 147.7L407 134.4L430.9 120.4Z" fill="#353535"/><path d="M431.2 192.5L418.9 193.3L406.7 194.1L394.6 194.7L382.4 194.9L382.1 198.4L394.3 200.4L406.5 202L418.7 203.4L430.8 204.9Z" fill="url(#r26)"/><path d="M431.1 195.3L418.9 195.6L406.7 195.8L394.5 195.9L382.3 195.7L382.2 197.6L394.3 199.1L406.5 200.2L418.7 201.2L430.9 202.1Z" fill="url(#r27)"/><path d="M385.5 194.9L366.9 193.1L348.3 191.3L329.7 189.6L311.1 188.1L310.9 190.7L329.5 192.5L348 194.3L366.6 196.4L385.1 198.4Z" fill="#0d0d0d"/><path d="M385.4 195.7L366.8 193.8L348.3 192L329.7 190.3L311.1 188.7L311 190.1L329.5 191.8L348.1 193.7L366.6 195.6L385.2 197.6Z" fill="#1c1c1c"/><path d="M326.6 105.7L314.4 112.8L302.2 119.9L290 127L277.9 134.1L280.6 138.6L292.6 131.3L304.7 124.1L316.8 116.8L328.8 109.5Z" fill="#141414"/><path d="M327.1 106.5L314.9 113.7L302.8 120.8L290.6 128L278.5 135.1L280 137.6L292 130.4L304.1 123.1L316.2 115.9L328.3 108.6Z" fill="#2e2e2e"/><path d="M297.5 141.7L292.2 145.1L286.9 148.5L281.6 151.9L276.3 155.4L279.1 159.8L284.4 156.4L289.7 153L295 149.6L300.3 146.2Z" fill="#171717"/><path d="M298.1 142.7L292.8 146.1L287.5 149.5L282.2 152.9L276.9 156.4L278.5 158.8L283.8 155.4L289.1 152L294.4 148.6L299.7 145.2Z" fill="#323232"/><path d="M302.5 184.9L310 183.4L317.6 182L325.1 180.5L332.7 179.1L331.8 173.9L324.2 175.1L316.6 176.3L309 177.6L301.4 178.8Z" fill="#181818"/><path d="M302.2 183.5L309.8 182.1L317.4 180.7L324.9 179.3L332.5 177.9L332 175.1L324.4 176.4L316.8 177.6L309.2 178.9L301.6 180.1Z" fill="#373737"/><path d="M276.2 210.2L297 209.9L317.9 209.8L338.7 210.5L359.4 212.2L359.6 210.5L338.9 207.8L318 206.3L297.1 205.5L276.2 204.9Z" fill="#121212"/><path d="M276.2 209L297 208.9L317.9 209L338.7 209.9L359.5 211.8L359.6 210.9L338.8 208.4L318 207L297.1 206.5L276.2 206.1Z" fill="#292929"/><path d="M248.2 122.4L251.2 116.3L254.1 110.2L257 104.1L260 98L256 96L252.9 102L249.8 108L246.6 114L243.5 120Z" fill="#141414"/><path d="M247.2 121.9L250.2 115.8L253.1 109.7L256.1 103.6L259.1 97.5L256.9 96.4L253.8 102.5L250.7 108.5L247.7 114.5L244.6 120.6Z" fill="#2e2e2e"/><path d="M-7.7 230.6L19.2 227L46.1 224L73.1 222.6L100.1 221.7L99.9 215.5L72.8 217.1L45.6 219.2L18.6 222.9L-8.2 227.1Z" fill="url(#r28)"/><path d="M-7.8 229.8L19.1 226.1L46 222.9L73 221.4L100.1 220.3L99.9 216.9L72.8 218.4L45.7 220.3L18.8 223.8L-8.1 227.9Z" fill="url(#r29)"/><path d="M103.2 234.9L109.6 234.5L116.1 234.1L122.5 233.7L128.9 233.4L128.6 228.1L122.2 228.5L115.8 228.8L109.3 229.2L102.9 229.6Z" fill="#181818"/><path d="M103.1 233.7L109.6 233.3L116 232.9L122.4 232.6L128.9 232.2L128.7 229.3L122.3 229.7L115.8 230L109.4 230.4L102.9 230.8Z" fill="#373737"/><path d="M61.1 256L77.6 252.9L94.1 250L110.7 248.4L127.5 247L127.1 241.7L110.2 243.1L93.4 244.8L76.7 247.7L60.1 250.9Z" fill="#141414"/><path d="M60.9 254.9L77.4 251.7L93.9 248.9L110.6 247.2L127.4 245.8L127.2 242.9L110.4 244.3L93.5 246L76.9 248.8L60.3 252Z" fill="#2e2e2e"/><path d="M-3 339L18.9 324.1L41.5 310.9L65.7 300.4L90.5 291L115.7 282.4L114.6 279L89 286.4L63.5 294.5L38 303L13.2 313.8L-10.7 326.1Z" fill="url(#r30)"/><path d="M-4 337.3L18.1 322.8L41 309.9L65.4 299.7L90.3 290.4L115.5 282L114.8 279.5L89.2 287L63.8 295.3L38.5 304.1L13.9 315.1L-9.7 327.8Z" fill="url(#r31)"/><path d="M-5.4 335L17.1 320.9L40.4 308.5L65 298.6L90 289.6L115.4 281.4L115 280.1L89.5 287.8L64.2 296.3L39.1 305.5L14.9 317L-8.3 330.1Z" fill="url(#r32)"/><path d="M30.8 432.8L45.1 409.5L59.4 386.3L74.4 363.7L90.7 342.1L108.7 321.9L128.3 303.4L150.7 288.2L147.8 283.8L124.6 298.6L103.9 317.1L85 337.2L67.6 358.7L51.6 381.1L36.3 403.9L21.2 426.7Z" fill="#171717"/><path d="M28.6 431.4L43.1 408.2L57.6 385.1L72.9 362.5L89.4 341L107.7 320.8L127.4 302.3L150 287.2L148.4 284.8L125.4 299.7L105 318.2L86.3 338.3L69.1 359.8L53.3 382.3L38.3 405.1L23.3 428.1Z" fill="#353535"/><path d="M76.4 432.3L88.8 406.8L101.5 381.6L115.2 356.8L129.8 332.7L145.4 309L142.5 307L125.8 330L110.1 353.7L95.2 378.1L81.3 402.9L67.8 427.9Z" fill="#0f0f0f"/><path d="M74.5 431.3L87.1 405.9L100.1 380.8L114 356.1L128.9 332.1L144.7 308.6L143.1 307.4L126.7 330.6L111.2 354.4L96.6 378.9L83 403.8L69.8 428.9Z" fill="#222222"/><path d="M118.7 297.2L125.5 292.2L132.2 287.2L139 282.2L145.7 277.2L142.1 272.2L135.3 277L128.4 281.8L121.5 286.7L114.6 291.5Z" fill="#171717"/><path d="M117.8 295.9L124.6 291L131.4 286L138.1 281L144.9 276L142.9 273.3L136.1 278.2L129.2 283L122.4 287.9L115.5 292.8Z" fill="#323232"/><path d="M153.4 354.5L157.1 347.7L160.8 340.8L164.5 333.9L168.2 327L165.1 325.3L161.2 332.1L157.4 338.9L153.5 345.6L149.6 352.4Z" fill="#111111"/><path d="M152.6 354L156.3 347.2L160 340.3L163.8 333.5L167.5 326.7L165.8 325.7L162 332.5L158.1 339.3L154.3 346.1L150.5 352.9Z" fill="#252525"/><path d="M181.3 432.3L186.5 410.5L191.5 388.7L196.1 366.7L200.2 344.8L196.8 344L190.7 365.4L184.3 386.8L177.4 407.9L170.3 429.1Z" fill="url(#r33)"/><path d="M178.9 431.6L184.4 409.9L189.9 388.3L194.8 366.4L199.4 344.6L197.5 344.1L191.9 365.7L185.9 387.2L179.4 408.5L172.8 429.8Z" fill="url(#r34)"/><path d="M169.3 314.6L170.7 307L172.1 299.4L173.5 291.8L174.9 284.2L170.6 283.3L168.9 290.9L167.3 298.4L165.7 306L164.1 313.5Z" fill="#141414"/><path d="M168.1 314.3L169.5 306.8L171 299.2L172.5 291.6L173.9 284L171.5 283.5L170 291.1L168.4 298.6L166.8 306.2L165.2 313.8Z" fill="#2e2e2e"/><path d="M199.6 287.1L199.9 284.1L200.1 281L200.4 278L200.7 274.9L196.3 274.4L195.8 277.4L195.3 280.4L194.8 283.4L194.4 286.5Z" fill="#171717"/><path d="M198.4 287L198.7 283.9L199 280.9L199.4 277.9L199.7 274.8L197.3 274.5L196.8 277.5L196.4 280.6L196 283.6L195.5 286.6Z" fill="#323232"/><path d="M133.5 223.2L138 222.9L142.5 222.6L147.1 222.3L151.6 222L151.4 216.7L146.9 216.8L142.3 216.9L137.8 217L133.2 217Z" fill="#191919"/><path d="M133.4 221.8L137.9 221.6L142.5 221.3L147 221.1L151.6 220.8L151.5 217.9L146.9 218L142.4 218.2L137.8 218.3L133.3 218.4Z" fill="#393939"/><path d="M412 424.4L392.8 403.1L373.4 381.8L353.6 361L335.1 339.5L319.6 315.6L303.4 291.9L300.5 293.8L315.4 318.3L329.9 343.2L347.6 366.1L365.6 388.5L383.1 411.1L400.6 433.9Z" fill="url(#r35)"/><path d="M410.6 425.6L391.5 404.1L372.4 382.7L352.8 361.7L334.4 340L319 316L303 292.1L300.8 293.6L315.9 317.9L330.6 342.7L348.4 365.5L366.6 387.6L384.4 410.1L402 432.7Z" fill="url(#r36)"/><path d="M408.5 427.3L389.8 405.6L371 383.9L351.8 362.6L333.5 340.6L318.3 316.4L302.5 292.5L301.4 293.2L316.7 317.4L331.5 342.1L349.5 364.5L368 386.4L386.1 408.6L404.1 431Z" fill="url(#r37)"/><path d="M431.6 320.8L407.5 314.8L384.3 307.4L363.5 294.6L342.6 281.1L321.3 268L300.4 254.3L297.4 258.7L317.7 273.4L338.4 287.5L358.8 302L380.9 314.9L405.5 322.2L430 327.6Z" fill="url(#r38)"/><path d="M431.2 322.3L407 316.5L383.5 309.1L362.5 296.3L341.6 282.5L320.5 269.2L299.7 255.3L298.1 257.7L318.5 272.1L339.3 286L359.9 300.3L381.7 313.2L405.9 320.5L430.4 326.1Z" fill="url(#r39)"/><path d="M431.4 289.7L402.7 280.9L374.2 271.9L345.9 262L317.9 251.4L316.3 255.5L344.3 266.3L372.6 276.5L401.2 285.7L429.9 294.7Z" fill="#0d0d0d"/><path d="M431.1 290.8L402.4 282L373.8 273L345.6 262.9L317.5 252.3L316.7 254.6L344.7 265.3L373 275.5L401.6 284.7L430.2 293.6Z" fill="#1c1c1c"/><path d="M286.4 266.5L292.9 271.3L299.4 276.2L306 281L312.5 285.9L315.7 281.7L309.3 276.6L302.9 271.6L296.5 266.6L290.2 261.6Z" fill="#191919"/><path d="M287.3 265.4L293.8 270.3L300.2 275.2L306.7 280L313.2 284.9L314.9 282.6L308.5 277.6L302.1 272.7L295.7 267.7L289.3 262.7Z" fill="#393939"/><path d="M247.9 430.1L241.4 399.9L236.1 369.6L233.7 338.9L232.9 308L228.5 308L228.6 339.1L230.5 370.2L235.1 401L241 431.5Z" fill="#151515"/><path d="M246.3 430.5L240 400.2L234.9 369.7L232.5 338.9L231.9 308L229.5 308L229.8 339L231.7 370.1L236.5 400.8L242.5 431.2Z" fill="#303030"/><path d="M284.1 429.7L273.6 402.5L263.3 375.2L254.3 347.6L246.1 319.6L242.7 320.6L250.7 348.7L259.6 376.5L269.7 404L280 431.3Z" fill="#0d0d0d"/><path d="M283.2 430L272.7 402.8L262.5 375.5L253.5 347.8L245.3 319.9L243.4 320.4L251.5 348.4L260.4 376.2L270.6 403.6L280.9 430.9Z" fill="#1c1c1c"/><path d="M212.5 306.8L213.5 314.3L214.5 321.9L215.4 329.5L216.4 337L220.8 336.6L220.3 329L219.7 321.4L219.2 313.8L218.6 306.2Z" fill="#151515"/><path d="M213.9 306.7L214.8 314.2L215.6 321.8L216.5 329.3L217.4 336.9L219.8 336.7L219.2 329.1L218.5 321.5L217.9 313.9L217.3 306.3Z" fill="#2e2e2e"/><path d="M243.5 289.4L246.2 295.1L249 300.7L251.7 306.3L254.5 312L258.5 310.1L255.9 304.4L253.4 298.6L250.8 292.9L248.3 287.2Z" fill="#171717"/><path d="M244.6 288.9L247.3 294.6L250 300.2L252.7 305.9L255.4 311.5L257.6 310.5L255 304.8L252.4 299.1L249.8 293.4L247.2 287.7Z" fill="#323232"/><path d="M257.4 286.9L261.3 291.7L265.2 296.6L269 301.5L272.9 306.3L276.4 303.6L272.7 298.6L269 293.6L265.3 288.7L261.6 283.7Z" fill="#141414"/><path d="M258.4 286.2L262.2 291L266 295.9L269.9 300.8L273.7 305.7L275.6 304.2L271.9 299.3L268.1 294.3L264.4 289.3L260.7 284.4Z" fill="#2e2e2e"/><path d="M266.7 312L271.4 320.7L276.1 329.3L280.9 337.9L285.6 346.5L288 345.3L283.6 336.5L279.3 327.6L274.9 318.8L270.6 310Z" fill="#111111"/><path d="M267.5 311.6L272.2 320.2L276.8 328.9L281.5 337.6L286.1 346.2L287.4 345.5L283 336.8L278.6 328L274.1 319.2L269.7 310.5Z" fill="#252525"/><path d="M274.8 290.9L282.1 299.9L289.4 309L296.7 318L303.9 327L306 325.4L298.9 316.2L291.8 307L284.7 297.9L277.6 288.7Z" fill="#131313"/><path d="M298.8 222.4L307.2 222.5L315.5 222.6L323.8 222.7L332.2 222.8L332.3 217.5L324 217.2L315.6 216.9L307.3 216.6L299 216.3Z" fill="#171717"/><path d="M298.9 221.1L307.2 221.2L315.5 221.3L323.9 221.4L332.2 221.6L332.3 218.7L323.9 218.4L315.6 218.2L307.3 217.9L298.9 217.7Z" fill="#323232"/><path d="M292.6 235.3L298.6 235.8L304.7 236.2L310.8 236.7L316.8 237.1L317.3 231.9L311.3 231.2L305.2 230.5L299.2 229.9L293.1 229.2Z" fill="#181818"/><path d="M292.7 233.9L298.8 234.4L304.8 234.9L310.9 235.5L317 236L317.2 233.1L311.2 232.4L305.1 231.8L299.1 231.2L293 230.6Z" fill="#373737"/><path d="M322.6 230.3L333.2 232.4L343.9 234.6L354.5 236.8L365.1 238.9L366 234.6L355.5 232.3L344.9 229.9L334.3 227.5L323.7 225.1Z" fill="#0f0f0f"/><path d="M322.8 229.1L333.5 231.3L344.1 233.5L354.7 235.8L365.3 238L365.8 235.6L355.2 233.3L344.6 230.9L334 228.6L323.5 226.3Z" fill="#222222"/><g fill="none" stroke-linecap="round"><path d="M219.7 223.9L220.8 226.7M164.7 158.1L160.9 155.6M261.7 280.5L264.1 286.1M182.2 168.2L180 164M125.8 209.2L119.1 209.5M254.3 227.9L258 229M285.9 249.9L290.8 252.9M143.5 176.9L137 174.2" stroke="#202020" stroke-width="3.5"/><path d="M207.2 256.1L204.5 262.2M214.3 270.5L215.1 273.4M258.6 142.8L263.4 137.9M201.6 172.3L201.5 168.3M210.9 176.3L211.1 172.6M226.3 255.1L226.6 261.3M276.1 254.5L282.2 256.8" stroke="#202020" stroke-width="3"/><path d="M153.5 259.3L149.6 262.3" stroke="#202020" stroke-width="4"/><path d="M187.1 209.9L184.5 210.6M283.6 184.5L288.4 183.5M233.9 134.6L235.6 130.5M289 208.7L293.6 207.1M177 191.9L174.5 189.1M261.5 271.5L263.9 273.5M247.6 218.4L250.5 219.7M274.8 189.3L278 189.4M167.8 190.3L164.1 187.3" stroke="#282828" stroke-width="3.5"/><path d="M232.9 231.9L235.7 234.8M231.5 202L237.1 201.2M154.2 153.7L149.9 149.2M195.3 178.9L194.9 174.4" stroke="#282828" stroke-width="4"/><path d="M164.4 258.1L161.6 262.5M153.6 275.5L151.8 278.6M257 196L262.1 192.6M252.6 183.9L259 182.2M270.7 238.6L276.7 240.1M156.3 161.9L151.5 158.9M257.8 152L260.8 145.3M242.9 194L247.3 190.4M278.5 171.1L280.4 169.2M163.7 196.6L158.5 194.1M201.8 160.1L201.4 154.8M240.5 153.9L241.6 148.3M250 242.2L255.5 243.9M227.6 129L230.4 124.4" stroke="#282828" stroke-width="3"/><path d="M231.3 221.4L234.8 221.8M246.1 174.8L249.9 169.4M171.9 140.8L169.9 137.4M188.9 226.7L187.1 228.7M193.3 262.7L191.6 265.4M244.4 253.1L247.2 255.1M271 180.7L274.1 178.9M175.3 167.5L170.5 163M140.6 232.2L137.6 234.4M178 275.1L173.2 280.1M249.6 152.9L251 150M162.9 271.8L159.7 277.8M207.6 196L206.8 192.1M237.8 239.4L242 241.9" stroke="#303030" stroke-width="3"/><path d="M248.4 263.6L251.3 265.9M206 134.1L204.6 130.7M223.6 185.6L227.2 179.2M247.5 201.1L254.9 201.7M134.4 208.2L127.8 205.9M173.9 240.2L168.3 245.1M148.1 249.1L144.5 251.9M159 144.6L153.9 140M280.7 226L286.5 226.5M204.1 285.4L202.1 292.6M155.9 234.9L149.7 236.8" stroke="#303030" stroke-width="3.5"/><path d="M207.3 238.9L207.7 241.6M161.6 210L155.9 208.4M220.2 288.3L219.5 291.9M206.2 293.5L206.9 299.7M145.5 221.3L142.6 222.6M220.4 128.3L219 121.8" stroke="#303030" stroke-width="4"/><path d="M235.6 247.1L239.4 251.4M194.4 279.7L191.4 286.4M275.5 208.2L282.1 208.7M212.5 188.4L213.7 185.5M155 199.6L149.9 199.7M195.2 251.3L194.4 257.6M130.3 225.8L124.9 225.1M186 129.2L185.3 125.3M292 187.1L296.2 185.8M232.7 190.3L237.7 188.2M251.8 275.6L253.8 281.7M150.7 192.2L145.4 190.1M224.7 139.3L224.3 134.5M187.8 184.1L185.2 182.5" stroke="#383838" stroke-width="3"/><path d="M148.5 241.3L145.2 243.6M185.9 139.5L185.7 135.8M238.1 212.8L244.9 215.6M189.4 157.9L189.1 153.1M253.9 135.2L255.2 132.2M275.9 262.2L280 267.3M218.3 159.5L218.1 155.2M284.1 200.8L286.6 201M125.9 201.4L123 200.6M272 246.6L275.8 250.7" stroke="#383838" stroke-width="3.5"/><path d="M183.6 241.6L180.9 243.6M165.9 224.2L160.5 224M289.9 195L293.4 194.2M171.1 151L167.2 146.4M229.7 279.3L231.9 285.1M227.3 239.4L229.7 242M195.4 129L194.6 123.4" stroke="#383838" stroke-width="4"/><path d="M234.2 164.9L236.4 162.7M258.4 162.7L264.8 159.5M196.1 242L193.8 247.7M224.8 193.4L228.8 190.9M160 181.7L155.6 180.9M258.1 257.4L263.3 261.5M153.8 172.2L148.9 169" stroke="#404040" stroke-width="3"/><path d="M179.2 284.7L177 290.3M213.8 244.6L214.8 248.1M261.6 173.4L267.7 170.7M143.2 187L139.7 184.8M214 152L214.5 145M270.8 166.2L272.8 163.7M245.5 232L248.1 233.4M239.4 258.2L240 260.6M200.3 198.4L196.9 194.3M210.1 276.5L210.4 281.1M228.8 210.9L235.4 209.3M284.6 232.9L289.7 236.7" stroke="#404040" stroke-width="3.5"/><path d="M244.9 144.1L248.1 139.7M210.7 166.9L209.7 161M203.1 267.7L201.4 272.4" stroke="#404040" stroke-width="4"/><path d="M161.9 247.5L156.7 252.7M185 201.3L181.5 199.9M256.4 216.6L260.1 217.2M182.6 152.9L181.3 148.1M130.8 185.9L125 184.2M237.5 274.3L239 278M171 251L164.4 254" stroke="#484848" stroke-width="3"/><path d="M178.6 213.7L175.9 213.7M290.7 176.9L293.3 176.7M270.2 272.6L274.3 275.4M179.7 267.6L178.9 271.7M136.8 168.9L130.5 165.6M262.6 184.4L265.7 184M206.8 143.7L206.8 140.3M179.4 179.6L177.7 177.1M281.8 216.9L284.3 216.3" stroke="#484848" stroke-width="3.5"/><path d="M187.5 219.6L182.3 220M268.8 221.1L273.7 222.6M218.4 254.5L218.1 261M197.8 191.4L193.9 185.5M144.7 206.8L142.2 205.7M232.9 294.1L234.2 298.2M290.4 227.6L295 227M244.6 286.5L246.1 292.8M194 137.4L193.4 135M174.2 220.7L169.1 221.4M222 149.3L224.4 144M191.7 167.5L188.8 162.8" stroke="#484848" stroke-width="4"/><path d="M174.6 231.8L171.5 234.8M218.6 179.1L219.3 175M232 264.7L232.7 269M179.4 257L177.8 260.7M270.8 157.6L274.8 153M186.5 193.1L182.8 190.5M146.2 159.5L142 155.5M252.4 168L254.5 163.7" stroke="#505050" stroke-width="4"/><path d="M196.7 219.3L192.7 220.9M206.7 230.3L206.1 234.1M266 264.4L271.9 268.5M261.6 229L268.1 231.9" stroke="#505050" stroke-width="3.5"/><path d="M167.7 173.4L164.2 168.7M153.9 223.6L149.5 225.6M196.8 229L193.9 234.5" stroke="#505050" stroke-width="3"/></g><circle cx="210.3" cy="211.4" r="7" fill="url(#gd)"/>
</g></g>
<rect x="92.4" y="21" width="1" height="424" fill="#0c0a40"/>
<rect x="532.6" y="21.4" width="37.2" height="422.6" fill="url(#cb)" stroke="#111" stroke-width="1.3"/>
<rect x="565.6" y="126.2" width="4.2" height="1" fill="#111"/>
<rect x="565.6" y="232" width="4.2" height="1" fill="#111"/>
<rect x="565.6" y="337.8" width="4.2" height="1" fill="#111"/>
<text class="t" x="580.3" y="29.7">0</text>
<text class="t" x="580.3" y="135.4">-5</text>
<text class="t" x="580.3" y="241.2">-10</text>
<text class="t" x="580.3" y="346.9">-15</text>
<text class="t" x="580.3" y="452.7">-20</text>
<text class="t" text-anchor="middle" x="133.9" y="478.8">-2</text>
<text class="t" text-anchor="middle" x="217.6" y="478.8">-1</text>
<text class="t" text-anchor="middle" x="304.1" y="478.8">0</text>
<text class="t" text-anchor="middle" x="388.4" y="478.8">1</text>
<text class="t" text-anchor="middle" x="472.8" y="478.8">2</text>
<text class="t" text-anchor="end" x="82.4" y="71.8">2</text>
<text class="t" text-anchor="end" x="82.4" y="156.4">1</text>
<text class="t" text-anchor="end" x="82.4" y="241">0</text>
<text class="t" text-anchor="end" x="82.4" y="325.6">-1</text>
<text class="t" text-anchor="end" x="82.4" y="410.2">-2</text>
<text class="l" x="93.6" y="532.8" textLength="180.2" lengthAdjust="spacingAndGlyphs">Horizontal</text>
<text class="l" x="286.4" y="532.8" textLength="160" lengthAdjust="spacingAndGlyphs">Direction</text>
<text class="l" x="461.5" y="532.8" textLength="53.9" lengthAdjust="spacingAndGlyphs">[m]</text>
<text class="l" transform="translate(32.8,420.6) rotate(-90)" textLength="133" lengthAdjust="spacingAndGlyphs">Vertical</text>
<text class="l" transform="translate(32.8,271.8) rotate(-90)" textLength="160" lengthAdjust="spacingAndGlyphs">Direction</text>
<text class="l" transform="translate(32.8,97.6) rotate(-90)" textLength="52.6" lengthAdjust="spacingAndGlyphs">[m]</text>
<text class="l" transform="translate(676.8,307.1) rotate(-90)" textLength="75.5" lengthAdjust="spacingAndGlyphs">SPL</text>
<text class="l" transform="translate(676.8,219.8) rotate(-90)" textLength="68.9" lengthAdjust="spacingAndGlyphs">[dB]</text>
<text class="c" x="278.6" y="592.3">(d)</text>
</g>
<g transform="translate(340.3,1250.7)">
<g transform="translate(93,21)" clip-path="url(#pc)"><g filter="url(#pm)">
<rect x="-12" y="-12" width="447" height="447" fill="#000000"/>
<g fill="none" stroke-linecap="round"><path d="M289.1 385.3L291.1 389.3M238.3 123.5L239.8 117.3M131.2 235.3L118.2 239.5M194.9 72.5L192.5 60.8M231.7 51L234.7 37.8M281.5 76.8L289.9 61.6M352.4 49.4L370.4 27.6" stroke="#181818" stroke-width="3"/><path d="M384.8 101.9L414.8 84.5M120.9 314.6L114.6 321.3M53.1 353.8L32.4 372.5M233 67.9L235.9 48.7M97.3 126.5L83.7 118M311.1 137L329 122.5M153.1 53.7L145.2 25.4M171.9 322.3L169.1 328.6" stroke="#181818" stroke-width="3.5"/><path d="M384.9 204.4L394.3 204.2M369.6 196.9L389 193.4M190.3 82.7L189 77.2M282.6 293.3L296.3 310.3M124.6 254.4L105.9 264.7M33.2 52.3L13.9 35.2M193.6 20.8L191.7 7.8M26.2 84.6L-3.6 67.4" stroke="#181818" stroke-width="4"/><path d="M98.9 389L96.9 392.5" stroke="#181818" stroke-width="2.5"/><path d="M139.1 157.6L136.7 154.3M272.5 193.7L276.9 193.7M259 279.6L261.5 282.5M292.6 244.5L297.4 246.7M313.4 117.3L319.3 111.8M365.2 260.7L376.6 264.4M7.7 358.1L2.8 361.3M321.1 378.4L339 408M314 199.4L334.8 197.9M96.8 147.5L88.3 143.7M58.2 86.9L31.4 63.8M226.8 293.2L228.8 307.8M185.5 319.7L183.5 327.2M405.2 274.8L437.4 287.5M201.8 391.8L202.2 415.4M118 151.3L99.6 141.5M348.6 258.4L359.4 261M378.1 51.1L402.1 30.1M319.1 214.3L330.8 213.9M400.7 344.3L412.5 352.9M321.2 16.7L338.1 -7.2M344.9 191.4L361.4 189.7" stroke="#202020" stroke-width="3"/><path d="M221.5 204.4L226.4 201.8M192.1 215.8L187.8 218.1M332.7 326.6L341.4 333.8M48.5 111.2L36.8 104.7M409 152.1L423.4 147.1M23.1 170.5L-5 167.3M126.5 25.7L111.1 -7.4M159.4 385.4L156.7 399.6M131.8 186.8L126.5 185.5M267.7 43.4L272.2 30.7M334 16.5L355.8 -16.9M401.3 275.4L416.2 279.7M402.1 33.8L416.7 21.4M19.7 267.9L10.8 271.1M63.9 279L41.7 286.7M323.3 414.6L332.6 434.9" stroke="#202020" stroke-width="4"/><path d="M131.8 96.8L126.8 88.2M68.4 105.2L47.3 86.1M198.9 307.3L197.1 323.8M101.6 17.3L93.3 0.5M79.5 152.7L64.5 145.5M263.3 131.1L269.6 118.9M353.9 241.2L377.4 244.4M224.6 35.6L226 14.8M282 352.1L294.3 379.4M337.3 22.3L346.4 7.5M371.7 157.1L379.8 154.8M104.1 249.2L95.4 252.6M275.8 82.4L278.1 76.8M101.7 160.7L96.8 158.5M150.8 416.5L144.5 434.7" stroke="#202020" stroke-width="3.5"/><path d="M282.4 389.7L292.4 415.4M138.6 127L125.2 109.4M174.5 114.3L171.4 102.9" stroke="#202020" stroke-width="2.5"/><path d="M178.7 208.7L173.5 208.9M199.9 229.5L197.4 235.9M207 177.6L206.6 174.9M225.6 246.7L226.2 252.3M141.9 173.3L138.6 170.8M250.5 214.6L254 214.1M254.4 176.2L257.1 173.8M287.6 258.4L293.4 261.7M249.5 285.7L251.8 288.6M174.9 177.8L173 176M285.6 234.9L291.5 238.6M181.7 142.9L179.5 136.5M239.9 169.7L243.9 166.6M111.4 335.4L95.6 358.8M343.5 227.7L352.3 229.1M20.2 232.6L7.7 234.4M14.8 27.4L-18.6 -1M180.2 32.3L174.1 3.6M275.3 29L280.3 13.9M74.7 285.1L56.3 297M26.5 62.8L-1 39.1M161.7 323.8L153.7 342.8M172.1 285.9L168.1 294.7M35.7 75.9L28.7 71" stroke="#282828" stroke-width="4"/><path d="M171.9 283.4L170.1 286.4M242.4 200.4L246.9 197.9M148.2 193.6L142.3 192.7M161.3 268.8L159.4 271.7M139.3 189.4L133.3 189.1M219.1 109.2L220.6 100.8M82.1 233.2L56.3 236.5M94 401.9L77 432.3M298 227.6L318.9 229.8M388.7 257.9L410.5 261.2M242 114.8L246.9 93.9M48.5 238.6L39.4 240.5M39 259.5L22.2 263.5M340.1 378.5L343.8 382.5M390.7 233.5L420.4 237.4M161.9 123.8L157.9 116.1M352.3 291.7L363.8 298.5" stroke="#282828" stroke-width="3"/><path d="M228 176.2L230.8 172.1M158.4 130.9L154.3 127.4M144.2 270.5L140.6 273.8M248.2 187.8L253.4 184.2M295.3 167.4L298.2 165.7M261.6 257.1L266.2 259.4M178.6 248.8L175.9 251.7M253.7 203L256 202.8M282.4 208L285.7 208.4M123.7 184.4L120.2 182.8M270.6 249.5L274.3 251.5M291.3 36L292.8 31.8M64.2 368.3L51.2 383.1M336 142L340.1 140M57.8 185L29.2 180.7M298.4 112L309.6 101.2M246.3 78L251.4 58M139.5 376.1L129.6 395.7M37.2 241.7L7.9 244.2M326.3 184.6L337.2 182.9M193.6 331.2L191.1 349.2M315.8 302.2L334.7 317.3M96.9 32.8L81.8 10.4M66.6 354.6L60.6 360.8M399.1 416.6L411.8 431.7M334.2 246.6L350.4 252.9M294.7 167.1L314 158.2M69.4 300.1L58 307.8M185.4 401.9L182.2 421.6M78.2 51.7L54.9 29.1M281.8 151.3L294.6 137.9M325.4 231.5L338.9 235.3M374.9 271.5L400.3 278.7M350.3 58L353.7 53.8" stroke="#282828" stroke-width="3.5"/><path d="M203.5 152.5L203.2 149" stroke="#282828" stroke-width="4.5"/><path d="M187.6 118.8L185.5 112.9M173.9 347.9L171 357.6M112.5 122.7L106.6 118M97.7 350.6L79.1 378.4M110.9 173.7L105.4 172" stroke="#282828" stroke-width="2.5"/><path d="M307.6 209.3L313.6 208.1M242.6 120.6L243.5 117.2M270.8 279.1L273.4 280.9M204.1 221.1L199.9 224.2M305.9 225.3L310.9 225.7M230.2 196.4L234.3 192.1M175.2 237L170.2 241.4M162.9 294.6L160.7 297.5M62.3 153.1L46.4 147.3M382.8 36.4L400.4 18.4M87.1 210.8L72.4 211.6M362.4 83.8L392.1 63.5M64 19.1L49.9 3.1M269.6 271.3L273.3 275M219.4 61.3L220.9 51.1" stroke="#303030" stroke-width="4"/><path d="M155.4 142.6L153.6 140.9" stroke="#303030" stroke-width="4.5"/><path d="M189.8 235L185.7 237.7M144.2 256.1L139.6 259.4M188.7 282.1L186.4 287.5M197.8 132.7L196.2 126.3M194.9 184.3L193.2 181.6M225.1 337.3L225.9 347.8M250.5 57.3L254.6 44.1M405.6 192.8L418.2 190.9M255.5 282L263.8 297.1M406.5 129.7L439.4 120M130.3 64.6L120.7 42.2M262 72.3L266.8 58.8M21.1 388.2L11.5 399M122.8 285.6L108.8 295.3M86.9 254.5L71.4 259.4M361.4 171L378.9 165.3M336.5 52.9L345 39.8M320.7 257.5L334.2 264.3M382.9 123.6L405.5 113.3M21.4 103.5L8.2 96.9M55 294.6L36.4 304.6" stroke="#303030" stroke-width="3"/><path d="M180.9 229.9L176.1 231.6M141.2 201.1L135 200.7M239 138.6L242.9 133.4M200.3 259L198.4 263.9M300.4 233.4L303 233.8M191.8 205.1L186.7 202.2M176.2 121L173.9 115.8M209.8 255L210.1 257.7M117.2 208.7L112.5 207.3M292 199L298 197.5M129.3 213.2L121 213.4M325 130.6L338.7 122.7M188.7 366.7L186.7 375.2M203.1 4.7L202.9 -12.2M212.2 306.3L213.5 327.9M146 364.9L138.3 387.9M346.6 399.5L351.5 407.2M259.6 300.1L269.5 317M42.7 313.1L25.5 323.2M9 80.8L-16 66.8M215.3 346L216.2 360.4M331.8 118.5L340.3 111.3M13.6 189.2L-9.2 186.4M288 200.5L306.2 197.7" stroke="#303030" stroke-width="3.5"/><path d="M53.5 71.9L26.5 49.1M345.1 358.3L365.5 378.6M353.3 204.2L372.5 202.1M51.9 142.4L40.8 138M78.7 382.2L70.5 395.1M105.7 294.9L88.1 308.7M126.6 421.5L124.1 428.9M253.7 353.8L256.8 361.9" stroke="#303030" stroke-width="2.5"/><path d="M159.2 191.3L153.2 188.5M212.8 245.6L212.4 247.7M237.1 300.7L238.2 302.5M277.4 222.5L283.8 224.9M182.5 172.5L181.4 170.2M166.3 232L164.6 233M139.1 232.6L134.3 235M233.5 162L236.2 158.9M240.3 233L243.8 234.7M358.7 142.9L365.5 139.2M33.9 130L7.8 120.7M268.9 143.9L276.9 133.5M171.7 51.5L170.4 47.3M305.2 240.9L324.6 244.8M370.4 31.4L382.8 19.6M86.6 113.3L80.2 107.1M291.8 268.9L295.5 271.7M117 209.2L110.6 208.6M394.9 386.6L405.6 397.6M108.4 366.2L92.3 387.2M399.8 91.8L424 79.6M35.7 38.5L7.7 7.5M100.3 111.8L96.2 108.1M134.4 171.9L127.5 167.9M229.4 417.7L229.4 425.6M414.2 179.3L437.5 174.5M105.1 185L92.4 181.6" stroke="#383838" stroke-width="3.5"/><path d="M171.7 163.5L168.4 160.4M191.7 168.5L190.2 162.2M282.5 274.6L285.5 277.9M168 197.7L162.4 196.4M236.8 244.7L239.7 247M213.1 284.1L212.7 287.2M269.1 209.6L275.2 209.1M299.8 191.9L305.1 191.7M223.5 118.9L223.9 113.8M262.9 166.8L267.9 162.9M224 213.9L229.9 215.4M163 112.6L153.4 93.1M330.6 274.1L340.3 279.2M349.4 322.1L364 331.7M71 122.5L51.5 109.6M54.8 158.6L28.9 147.7M312 59.6L325.1 41.8M371 183.1L384.2 181M32.3 110.7L28.6 108.8M219.4 125.7L219.5 118M389.2 302.7L414.5 312.7M133.9 84.2L122.1 60M367.4 115.9L391 99.4M323.5 83.8L346.3 62.4" stroke="#383838" stroke-width="4"/><path d="M284.4 187.7L287.5 186.3M222.8 167.6L222.7 165.5M136 251.9L130.5 254.1M221.4 258.1L221.7 264.9M200.8 208.8L197.1 207.3M177.9 296.5L176.4 298.3M154.9 174.8L150.7 169.6M147.2 164.1L143.5 162M193.5 269.6L193.4 275.5M154.1 315.5L145.2 328.5M42 167.5L25.5 164.1M361.9 299.4L384.2 314.3M183.8 73L180.3 51.8M134.3 274.4L124.1 281.7M117 69.8L113.2 62.8M138 306.2L125.3 320.2M392.4 162.8L405.2 158.5M400.6 172.9L411.6 171.1M249.6 303L252.5 310.7M420.4 103.9L430 99.6M77.3 166.6L66.8 162.4M175 407.3L168 435.1M262.4 109.8L274.9 89M121.3 223.4L111.6 223.8M394.3 291L407.6 297.6M308.1 264.2L318.8 270.3M214.1 94.1L215 84.6" stroke="#383838" stroke-width="3"/><path d="M242.6 254L246.9 257.8" stroke="#383838" stroke-width="4.5"/><path d="M360.5 360.6L379.3 381.5M273.6 340.2L276.3 346.4M71.5 221.7L51 221.6M274.1 314.6L276.7 318.6M268.3 360.6L270.7 367.2M58.7 379.3L40.1 397.9" stroke="#383838" stroke-width="2.5"/><path d="M156.2 162.5L153.7 161.2M232.2 220L237.9 222M217.6 297.6L217.9 300.3M116.6 196.9L111.8 196.2M146.1 214.9L140.6 215.5M147.9 138L144.7 132.8M149.6 181.2L145.4 179.3M265.5 240.5L269.8 242.3M411.5 60.2L423.3 53" stroke="#404040" stroke-width="3"/><path d="M213.2 231.2L214.5 235.8M231.2 280.1L232 285.7M252 240.7L254.7 242.6M213.6 166L213.7 159.8M240.4 180.9L242.8 178.4M282.4 245.9L284.7 247M238.5 331.9L241.5 353.9M199.2 116L197.5 103.4" stroke="#404040" stroke-width="4"/><path d="M132.1 172.8L127.6 170.3M218.7 269.2L218 274.6M188.3 244.9L184.5 248.9M152.5 235.4L149.3 237.6M165.9 220.2L161.9 222.4M274.3 235.7L280.4 238.4M183.4 162.9L181.1 159.3M209 264.8L206.9 270.5M193.1 300.1L192.6 302.2M176.5 218.1L174 219.2M233.5 209.5L237.4 208M233.3 151L237.3 145.4M192.5 254.2L189.9 258.6M286.2 153.5L287.9 152.3M226.8 292.8L228 295.6M212.7 198.1L212.8 194.8M107.7 212.7L94.7 213.5M172.9 78.1L167 62.1" stroke="#404040" stroke-width="3.5"/><path d="M238.1 190.8L244.3 187.8" stroke="#404040" stroke-width="4.5"/><path d="M132.8 269.8L131.1 271.5M273.7 165L279 162.9M198 195.7L193.2 190.7M172 153.3L167.8 149M163.7 251.3L157.7 254.9M214.5 307.1L214.8 311.7M131.9 195.4L124.9 195.1M225.1 225.5L230.1 228.8M168 138.6L166.2 132.6M162.1 242.1L157.4 244.2M299 208.6L303.1 207.7M192.4 118.4L191.3 115.1" stroke="#484848" stroke-width="4"/><path d="M236.4 265.1L237.6 266.8M253.7 147.7L255.2 145.2M295.5 178.2L301.3 175.1M165.8 127.1L164.2 122.9M249.5 132.6L250 130.2M205.6 137.5L204.2 133.8M186.2 196.5L180.9 195.2M203.8 187.5L203.1 185M264.6 198.8L267.5 197.6" stroke="#484848" stroke-width="3.5"/><path d="M218.7 147.5L218.1 143.1M292.5 223.3L295.5 223.5M271.9 145L276.6 142M267.6 289.9L269.7 292M212.5 118.5L212.4 113.6" stroke="#484848" stroke-width="3"/><path d="M205.2 275.3L204.2 281.7" stroke="#484848" stroke-width="4.5"/><path d="M218.3 190.4L221.6 186.1M265.9 132.8L267.1 131.1M255.4 161.3L257.7 159.6M117.4 239.8L115.4 241.1M251.5 264.2L252.5 266.9M199.3 248.3L197.6 251.5M158.8 280.3L155.2 282.8M201.6 288.3L201.5 292.1M165.5 207L163.5 207.5M129 205.9L122.2 204.5M279.2 263.9L284.1 267.8" stroke="#505050" stroke-width="3"/><path d="M248.4 229.4L253.8 231.5M179.9 188.5L176.8 186.3M270.2 173.3L273.8 171.8M179.9 131.9L175.9 126.5M153 251.5L148.5 253.5M223.9 134L226.3 128.4M227.5 236.6L229.5 239.6M154.3 222.3L147.8 224.4M191.3 139L190.7 136.1M245.3 161.9L247.4 156.9M263.1 187.6L266.7 186.3M201.4 170.6L199.9 166.9" stroke="#505050" stroke-width="3.5"/><path d="M186.2 265.3L185.7 268.2M126.3 222.2L123 222.9M263.9 216.2L267.8 217.3" stroke="#505050" stroke-width="4"/><path d="M240.9 286.1L241.4 289.4" stroke="#505050" stroke-width="4.5"/></g><path d="M-7.8 1.3L8.6 16.3L25 31.3L41.4 46.2L57.8 61.2L63.4 55.5L48.2 39.3L33.1 23.1L17.9 6.9L2.7 -9.3Z" fill="#1c1c1c"/><path d="M-6.5 0L9.8 15.1L26 30.2L42.3 45.3L58.5 60.4L62.7 56.2L47.3 40.2L32 24.1L16.7 8.1L1.3 -7.9Z" fill="#3d3d3d"/><path d="M-4.6 -2L11.5 13.4L27.5 28.7L43.5 44.1L59.5 59.4L61.7 57.3L46.1 41.4L30.6 25.6L15 9.8L-0.6 -6Z" fill="#5c5c5c"/><path d="M-9.1 23.5L1.4 30.2L12 36.9L22.6 43.5L33.2 50.2L36.5 45.2L26.4 37.9L16.2 30.6L6 23.3L-4.1 16Z" fill="#1a1a1a"/><path d="M-8 21.8L2.5 28.6L13 35.5L23.4 42.3L33.9 49.1L35.8 46.4L25.5 39.2L15.3 32L5 24.9L-5.3 17.7Z" fill="#3d3d3d"/><path d="M32.6 -3.2L47.1 18L62.4 39L80.2 57.9L98.5 75.8L116.4 94.1L121.5 89.3L104.4 70.2L87.1 51.5L70.8 32.4L56.9 11.4L43.5 -10.3Z" fill="#171717"/><path d="M34 -4.1L48.4 17.1L63.5 38.1L81.1 57.1L99.3 75.1L117 93.4L120.8 89.9L103.7 70.9L86.2 52.3L69.7 33.3L55.6 12.3L42.1 -9.3Z" fill="#333333"/><path d="M36 -5.4L50.2 16L65 36.9L82.3 55.9L100.4 74.1L118 92.6L119.9 90.8L102.6 71.9L84.9 53.5L68.2 34.4L53.9 13.5L40.1 -8.1Z" fill="#4c4c4c"/><path d="M88.5 -4.8L93.6 4.1L98.6 13L103.6 21.9L108.7 30.9L114.1 28.2L110.1 18.8L106.2 9.3L102.3 -0.1L98.4 -9.6Z" fill="#1a1a1a"/><path d="M90.7 -5.9L95.5 3.2L100.3 12.2L105.1 21.2L109.9 30.3L112.8 28.8L108.7 19.5L104.5 10.2L100.4 0.8L96.2 -8.5Z" fill="#404040"/><path d="M115.7 -5.2L122.1 9.1L128.6 23.4L135 37.8L141.5 52.1L147.9 49.4L142.7 34.7L137.4 19.9L132.1 5.1L126.8 -9.7Z" fill="url(#r40)"/><path d="M117.1 -5.8L123.4 8.6L129.7 23L136 37.4L142.3 51.7L147.1 49.8L141.7 35.1L136.2 20.4L130.8 5.6L125.4 -9.1Z" fill="url(#r41)"/><path d="M119.1 -6.6L125.2 7.9L131.3 22.3L137.4 36.8L143.5 51.3L145.9 50.3L140.3 35.6L134.6 21L129 6.4L123.4 -8.3Z" fill="url(#r42)"/><path d="M172 -7.7L174 10.9L175.9 29.6L177.9 48.2L179.8 66.8L183.8 66.5L182.4 47.8L180.9 29.1L179.5 10.4L178 -8.2Z" fill="#181818"/><path d="M173.4 -7.8L175.2 10.8L177.1 29.5L178.9 48.1L180.7 66.8L182.9 66.6L181.4 47.9L179.8 29.2L178.2 10.6L176.7 -8.1Z" fill="#383838"/><path d="M182.7 9.1L182.8 15.5L182.9 22L183 28.4L183.2 34.8L187.2 34.8L187.3 28.4L187.4 22L187.5 15.5L187.7 9.1Z" fill="#171717"/><path d="M183.8 9.1L183.8 15.5L183.9 22L184 28.4L184.1 34.8L186.3 34.8L186.3 28.4L186.4 22L186.5 15.5L186.5 9.1Z" fill="#333333"/><path d="M-9.2 62.6L4.3 68.6L17.7 74.6L31.1 80.6L44.6 86.6L46.3 83.1L33.5 75.9L20.6 68.8L7.7 61.7L-5.1 54.5Z" fill="#0e0e0e"/><path d="M-8.3 60.8L5 67L18.4 73.3L31.7 79.6L45 85.8L45.9 83.9L32.9 77L19.9 70.1L7 63.2L-6 56.3Z" fill="#1f1f1f"/><path d="M-9.1 94L17.3 105.3L42.9 117.7L66.4 133.8L89.4 151.2L92.5 147.3L70 129L46.5 111.8L20.8 98.1L-5.5 85.8Z" fill="#181818"/><path d="M-8.3 92.2L18.1 103.6L43.7 116.4L67.2 132.8L90.1 150.3L91.8 148.2L69.2 130.1L45.7 113.1L20 99.7L-6.3 87.6Z" fill="#3d3d3d"/><path d="M69 90.6L79 98.7L89 106.8L99 115L109 123.1L112.2 119.3L102.5 110.8L92.8 102.3L83.2 93.7L73.5 85.2Z" fill="#181818"/><path d="M70 89.3L79.9 97.6L89.8 105.8L99.8 114L109.7 122.3L111.5 120.2L101.7 111.7L92 103.3L82.2 94.8L72.5 86.4Z" fill="#3b3b3b"/><path d="M-9.4 154.2L5.4 158L20.2 161.7L35 165.5L49.8 169.3L51.8 162.6L37.3 157.6L22.9 152.6L8.5 147.7L-5.9 142.7Z" fill="url(#r43)"/><path d="M-8.9 152.7L5.8 156.6L20.5 160.6L35.3 164.5L50 168.4L51.5 163.4L37 158.6L22.6 153.8L8.1 149L-6.4 144.2Z" fill="url(#r44)"/><path d="M-8.3 150.7L6.4 154.8L21 158.9L35.7 163.1L50.4 167.2L51.1 164.6L36.6 160L22.1 155.5L7.5 150.9L-7 146.3Z" fill="url(#r45)"/><path d="M-8.5 127.6L-1.9 129.7L4.8 131.8L11.5 133.9L18.1 136L19.7 131.3L13.1 128.9L6.6 126.6L0 124.2L-6.6 121.9Z" fill="#171717"/><path d="M-8.1 126.3L-1.5 128.5L5.2 130.6L11.8 132.8L18.5 134.9L19.4 132.3L12.8 130L6.2 127.7L-0.4 125.5L-7.1 123.2Z" fill="#333333"/><path d="M63.4 180.8L74.4 181.4L84.9 182.3L94.6 186.4L104.9 190.6L107.2 185.1L97.1 180.6L86.5 176L75 174.7L63.9 173.8Z" fill="#1a1a1a"/><path d="M63.5 179.2L74.5 179.9L85.2 180.9L95.2 185.1L105.4 189.4L106.7 186.4L96.5 181.9L86.1 177.4L74.9 176.2L63.8 175.4Z" fill="#3d3d3d"/><path d="M39.1 193.4L45.4 193.7L51.6 194L57.9 194.4L64.1 194.7L64.6 187.7L58.4 187.1L52.2 186.6L45.9 186L39.7 185.4Z" fill="#1a1a1a"/><path d="M39.2 191.6L45.5 192L51.7 192.4L58 192.7L64.3 193.1L64.5 189.3L58.3 188.8L52 188.2L45.8 187.7L39.6 187.2Z" fill="#3d3d3d"/><path d="M-8 197.4L2.9 197.3L13.8 197.2L24.7 197.1L35.6 196.9L35.6 190.9L24.7 190.8L13.8 190.7L2.9 190.6L-8 190.4Z" fill="#181818"/><path d="M-8 195.9L2.9 195.8L13.8 195.7L24.7 195.7L35.6 195.6L35.6 192.3L24.7 192.2L13.8 192.2L2.9 192.1L-8 192Z" fill="#383838"/><path d="M-8.2 211.4L14.4 212.5L37.1 213.6L59.8 214.3L82.5 215L82.7 208L60.1 207.1L37.4 206.1L14.8 204.8L-7.8 203.4Z" fill="#1a1a1a"/><path d="M-8.1 209.6L14.5 210.8L37.2 211.9L59.9 212.7L82.5 213.4L82.6 209.6L60 208.7L37.4 207.8L14.8 206.5L-7.9 205.2Z" fill="#404040"/><path d="M146.4 83.6L149.7 89.7L153.1 95.9L156.4 102L159.7 108.2L165.1 105.5L162.2 99.1L159.3 92.8L156.5 86.4L153.6 80Z" fill="#1a1a1a"/><path d="M148 82.8L151.3 89L154.5 95.2L157.7 101.4L160.9 107.6L163.9 106.1L160.9 99.8L157.9 93.5L155 87.2L152 80.8Z" fill="#3d3d3d"/><path d="M207.6 90.9L207.7 95.6L207.9 100.4L208 105.1L208.1 109.8L213.1 109.8L213.2 105.1L213.4 100.4L213.5 95.6L213.6 90.9Z" fill="#1a1a1a"/><path d="M209 90.9L209 95.6L209.1 100.4L209.2 105.1L209.2 109.8L212 109.8L212 105.1L212.1 100.4L212.2 95.6L212.3 90.9Z" fill="#3d3d3d"/><path d="M322.7 -9.6L315 6.2L307.4 22L299.7 37.9L292 53.7L298.2 56.9L306.8 41.6L315.4 26.2L323.9 10.8L332.5 -4.6Z" fill="url(#r46)"/><path d="M324 -9L316.2 6.8L308.4 22.6L300.6 38.3L292.8 54.1L297.4 56.5L305.9 41.1L314.3 25.6L322.8 10.2L331.2 -5.2Z" fill="url(#r47)"/><path d="M325.7 -8.1L317.8 7.6L309.8 23.3L301.9 39L293.9 54.7L296.3 55.9L304.6 40.4L312.9 24.9L321.2 9.4L329.5 -6.1Z" fill="url(#r48)"/><path d="M362.2 -8.1L346.1 12.1L331.7 33.7L320.2 56.9L308.9 80L296.7 102.6L301.1 105L313.5 82.4L325 59.3L336.5 36.6L350.8 15.6L366.9 -4.3Z" fill="#181818"/><path d="M363.3 -7.3L347.2 12.9L332.8 34.4L321.3 57.5L309.9 80.5L297.7 103.1L300.1 104.4L312.4 81.8L323.9 58.8L335.5 35.9L349.7 14.8L365.8 -5.2Z" fill="#3d3d3d"/><path d="M406.3 -7.8L385.1 13.3L363.9 34.3L342.6 55.4L321.4 76.4L300.2 97.5L303.7 101L325.1 80.1L346.4 59.2L367.8 38.3L389.1 17.4L410.5 -3.5Z" fill="#181818"/><path d="M407.2 -6.8L386 14.2L364.7 35.2L343.5 56.2L322.2 77.3L301 98.3L302.9 100.2L324.2 79.3L345.6 58.4L366.9 37.4L388.2 16.5L409.6 -4.4Z" fill="#3d3d3d"/><path d="M424.3 12.2L415.8 20.6L407.4 29L399 37.5L390.6 45.9L396.6 52.6L405.9 45.1L415.1 37.6L424.4 30.1L433.6 22.6Z" fill="#151515"/><path d="M426.4 14.5L417.8 22.7L409.2 31L400.6 39.2L391.9 47.4L395.3 51.1L404.3 43.4L413.4 35.7L422.5 27.9L431.5 20.2Z" fill="#333333"/><path d="M427.1 70.9L403.9 88.3L379.6 103.7L352.9 114.5L325.4 124.1L327 128.9L354.8 119.9L382.5 109.5L407.9 94.3L431.8 77.3Z" fill="#171717"/><path d="M428.2 72.3L404.8 89.7L380.2 105L353.3 115.7L325.7 125.2L326.6 127.8L354.4 118.7L381.8 108.2L407 93L430.8 75.9Z" fill="#383838"/><path d="M428.9 97L410.7 104.8L392.5 112.8L374.7 121.8L357.9 132.6L361.1 137.7L377.8 127.5L395.4 119.1L413.6 111.7L431.9 104.4Z" fill="#1d1d1d"/><path d="M429.6 98.7L411.3 106.4L393.1 114.2L375.4 123.1L358.6 133.8L360.4 136.6L377.1 126.2L394.7 117.7L412.9 110.2L431.2 102.8Z" fill="#474747"/><path d="M430.4 169.2L402.7 172.2L374.9 175.5L347.6 180.2L320 181.2L320.2 189.2L348.3 189L376.1 184.9L403.7 182.4L431.5 180.2Z" fill="url(#r49)"/><path d="M430.6 170.6L402.8 173.6L375 176.7L347.7 181.4L320.1 182.2L320.2 188.1L348.2 187.8L375.9 183.7L403.6 181.1L431.4 178.7Z" fill="url(#r50)"/><path d="M430.8 172.6L403 175.4L375.2 178.4L347.8 182.9L320.1 183.6L320.2 186.7L348.1 186.2L375.7 182L403.4 179.3L431.2 176.8Z" fill="url(#r51)"/><path d="M359.5 211.1L369.2 211L378.8 210.8L388.5 210.7L398.2 210.6L398.2 204.6L388.5 204.5L378.8 204.3L369.2 204.2L359.5 204.1Z" fill="#171717"/><path d="M359.5 209.5L369.2 209.4L378.8 209.4L388.5 209.3L398.2 209.2L398.2 205.9L388.5 205.9L378.8 205.8L369.2 205.7L359.5 205.7Z" fill="#363636"/><path d="M216.1 12.1L216.3 26.7L216.5 41.3L216.7 55.9L216.9 70.5L220.9 70.4L221 55.9L221 41.3L221.1 26.7L221.1 12.1Z" fill="#151515"/><path d="M217.2 12.1L217.4 26.7L217.5 41.3L217.7 55.9L217.8 70.5L220 70.4L220 55.9L220 41.3L220 26.7L220 12.1Z" fill="#303030"/><path d="M251.5 -8.3L249.5 8.8L247.4 26L245.4 43.1L243.4 60.3L248.4 60.9L250.6 43.8L252.9 26.7L255.2 9.6L257.4 -7.6Z" fill="#171717"/><path d="M252.8 -8.1L250.7 9L248.7 26.1L246.6 43.3L244.5 60.4L247.2 60.8L249.5 43.6L251.7 26.5L253.9 9.4L256.1 -7.7Z" fill="#333333"/><path d="M274.6 214.6L282.4 214.6L290.2 214.5L297.9 214.5L305.7 214.4L305.8 207.4L298 207.2L290.2 207L282.5 206.8L274.7 206.6Z" fill="#1f1f1f"/><path d="M274.6 212.8L282.4 212.8L290.2 212.8L297.9 212.8L305.7 212.8L305.7 209L298 208.8L290.2 208.7L282.5 208.6L274.7 208.4Z" fill="#525252"/><path d="M411 154.5L414 154.4L417 154.3L420 154.1L423 154L423 149L420 148.9L417 148.8L414 148.6L411 148.5Z" fill="#171717"/><path d="M411 153.2L414 153.1L417 153L420 153L423 152.9L423 150.1L420 150.1L417 150L414 149.9L411 149.9Z" fill="#333333"/><path d="M409.5 201L412.9 200.9L416.3 200.7L419.6 200.6L423 200.5L423 196.5L419.6 196.4L416.3 196.2L412.9 196.1L409.5 196Z" fill="#151515"/><path d="M409.5 199.9L412.9 199.8L416.3 199.7L419.6 199.7L423 199.6L423 197.4L419.6 197.3L416.3 197.2L412.9 197.2L409.5 197.1Z" fill="#2e2e2e"/><path d="M345 145.4L352.5 143.7L360.1 142.1L367.6 140.5L375.2 138.8L374.2 133.9L366.6 135.3L359 136.7L351.4 138.1L343.8 139.5Z" fill="#1a1a1a"/><path d="M344.7 144L352.2 142.5L359.8 140.9L367.4 139.3L374.9 137.7L374.4 135L366.8 136.5L359.2 137.9L351.6 139.4L344 140.8Z" fill="#3d3d3d"/><path d="M345.1 168.6L348.8 167.7L352.6 166.8L356.3 165.9L360.1 165.1L358.9 159.2L355.1 159.8L351.3 160.4L347.5 161.1L343.7 161.7Z" fill="#1a1a1a"/><path d="M344.7 167L348.5 166.2L352.3 165.4L356.1 164.6L359.8 163.7L359.2 160.5L355.4 161.2L351.6 161.9L347.8 162.6L344 163.3Z" fill="#404040"/><path d="M-8 217.5L14.7 217.6L37.4 217.3L60.2 215.8L82.8 214L82.4 208L59.8 209.6L37.2 210.8L14.7 210.8L-8 210.5Z" fill="#1a1a1a"/><path d="M-8 215.9L14.7 216.1L37.4 215.9L60.1 214.4L82.7 212.7L82.5 209.4L59.9 211L37.3 212.3L14.7 212.4L-8 212Z" fill="#404040"/><path d="M-2.5 366L14.3 353.9L31.2 342L48.4 330.6L65.9 319.4L62.9 314.2L44.2 323.2L25.5 332.5L7.2 342.4L-11 352.5Z" fill="url(#r52)"/><path d="M-3.6 364.3L13.4 352.4L30.4 340.7L47.9 329.6L65.5 318.7L63.3 314.8L44.7 324.1L26.3 333.7L8.1 343.9L-9.9 354.3Z" fill="url(#r53)"/><path d="M-5.1 361.8L12.1 350.3L29.4 339L47.1 328.3L64.9 317.8L63.8 315.8L45.5 325.5L27.3 335.4L9.4 346L-8.4 356.7Z" fill="url(#r54)"/><path d="M-3 403.9L12.6 391.2L28.2 378.5L44 366.2L60.1 354.1L56.6 349.2L39.8 360.3L23.1 371.7L6.7 383.4L-9.7 395.2Z" fill="#1c1c1c"/><path d="M-4.5 401.9L11.3 389.4L27 377L43.1 364.9L59.3 353L57.4 350.3L40.8 361.7L24.3 373.3L8 385.2L-8.2 397.1Z" fill="#454545"/><path d="M-6.5 302L16 294.4L38.6 286.7L61.1 278.9L83.4 270.7L81.7 265.9L59.3 273.7L36.7 281L14 288.2L-8.7 295.3Z" fill="#181818"/><path d="M-7 300.5L15.6 293L38.1 285.4L60.7 277.8L83 269.6L82.1 267L59.7 274.9L37.1 282.3L14.5 289.6L-8.2 296.8Z" fill="#3d3d3d"/><path d="M-5.9 334.2L3.6 329.6L13.1 325.1L22.6 320.6L32.1 316L30 311.5L20.3 315.6L10.7 319.6L1 323.7L-8.7 327.8Z" fill="#171717"/><path d="M-6.5 332.7L3 328.3L12.6 323.9L22.1 319.4L31.6 315L30.5 312.5L20.9 316.7L11.2 320.9L1.6 325L-8.1 329.2Z" fill="#383838"/><path d="M59.4 432.6L73.1 405.5L87.1 378.7L103.5 353.3L121 328.4L116.9 325.5L98.2 349.6L80.3 374.5L64.8 400.9L49.7 427.5Z" fill="#1c1c1c"/><path d="M57.2 431.5L71.2 404.5L85.6 377.8L102.3 352.5L120 327.8L117.8 326.1L99.4 350.4L81.9 375.4L66.6 402L51.9 428.6Z" fill="#454545"/><path d="M87.4 432.4L90.8 421.1L94.2 409.8L97.6 398.5L101 387.2L94.4 384.9L90.1 395.8L85.7 406.8L81.4 417.8L77 428.7Z" fill="#181818"/><path d="M85.1 431.5L88.7 420.3L92.3 409.1L95.9 397.9L99.5 386.7L95.9 385.4L91.8 396.4L87.6 407.5L83.5 418.5L79.4 429.6Z" fill="#3b3b3b"/><path d="M66.1 370.3L80.7 348.4L95.2 326.3L109 303.8L122.6 281.3L118.3 278.7L104.6 301.1L90.5 323.3L75.9 345.2L61.1 366.9Z" fill="#171717"/><path d="M65 369.5L79.7 347.6L94.1 325.6L108 303.2L121.6 280.7L119.3 279.3L105.6 301.7L91.6 324L77 345.9L62.3 367.7Z" fill="#383838"/><path d="M204.2 431.2L204.2 417.1L204.3 403L204.3 388.9L204.3 374.8L199.3 374.6L198.3 388.6L197.3 402.7L196.2 416.8L195.2 430.8Z" fill="url(#r55)"/><path d="M203 431.1L203.2 417L203.3 402.9L203.5 388.8L203.7 374.7L200 374.6L199.1 388.7L198.2 402.7L197.3 416.8L196.4 430.9Z" fill="url(#r56)"/><path d="M201.4 431.1L201.7 417L202.1 402.9L202.4 388.8L202.8 374.7L200.9 374.6L200.1 388.7L199.4 402.8L198.7 416.9L198 430.9Z" fill="url(#r57)"/><path d="M215.1 366.6L213.4 357.9L211.8 349.2L210.2 340.5L208.5 331.8L203.6 332.7L205 341.4L206.4 350.1L207.8 358.9L209.2 367.6Z" fill="#181818"/><path d="M213.7 366.8L212.2 358.1L210.6 349.4L209 340.7L207.4 332L204.7 332.5L206.2 341.2L207.6 349.9L209 358.6L210.5 367.4Z" fill="#383838"/><path d="M169.7 402.2L170.7 389.7L171.7 377.2L172.7 364.7L173.7 352.2L168.7 351.7L167.5 364.2L166.2 376.7L164.9 389.2L163.7 401.7Z" fill="#171717"/><path d="M168.3 402.1L169.4 389.6L170.4 377.1L171.5 364.6L172.6 352.1L169.8 351.8L168.6 364.3L167.4 376.8L166.2 389.3L165 401.8Z" fill="#363636"/><path d="M39.4 244.1L43.6 244L47.9 243.8L52.1 243.7L56.4 243.6L56.4 237.6L52.1 237.5L47.9 237.3L43.6 237.2L39.4 237.1Z" fill="#1a1a1a"/><path d="M39.4 242.5L43.6 242.4L47.9 242.4L52.1 242.3L56.4 242.2L56.4 238.9L52.1 238.9L47.9 238.8L43.6 238.7L39.4 238.7Z" fill="#3d3d3d"/><path d="M57.3 239.6L61.9 239.7L66.4 239.9L71 240.1L75.5 240.3L76 233.3L71.5 232.9L66.9 232.4L62.4 232L57.8 231.6Z" fill="#1a1a1a"/><path d="M57.4 237.8L62 238L66.5 238.2L71.1 238.5L75.6 238.7L75.9 234.9L71.3 234.5L66.8 234.1L62.3 233.8L57.7 233.4Z" fill="#3d3d3d"/><path d="M86.3 239.8L90.4 239.8L94.6 239.8L98.8 239.8L102.9 239.8L103.1 233.8L98.9 233.6L94.8 233.3L90.6 233.1L86.5 232.8Z" fill="#1c1c1c"/><path d="M86.3 238.3L90.5 238.3L94.6 238.3L98.8 238.4L103 238.4L103.1 235.1L98.9 235L94.7 234.8L90.6 234.6L86.4 234.4Z" fill="#424242"/><path d="M86.1 247.9L88.9 247.9L91.6 248L94.3 248L97.1 248.1L97.5 242.1L94.8 241.8L92 241.5L89.3 241.2L86.6 240.9Z" fill="#1a1a1a"/><path d="M86.2 246.3L89 246.4L91.7 246.5L94.4 246.6L97.2 246.8L97.4 243.5L94.7 243.2L91.9 243L89.2 242.7L86.5 242.4Z" fill="#3d3d3d"/><path d="M436.7 394.8L411.7 377.4L387 359.8L362.8 341.4L338.8 322.7L334.8 327.2L356.8 348.4L379 369.5L402 389.8L425.1 409.8Z" fill="url(#r58)"/><path d="M435.2 396.8L410.4 379.1L385.9 361.1L362 342.3L338.2 323.3L335.3 326.6L357.6 347.5L380.1 368.2L403.2 388.2L426.6 407.9Z" fill="url(#r59)"/><path d="M433.1 399.5L408.7 381.3L384.5 362.8L360.9 343.6L337.5 324.1L336 325.8L358.6 346.3L381.5 366.5L405 386L428.7 405.2Z" fill="url(#r60)"/><path d="M432.3 421.8L412.8 405.9L393.1 390.2L372.3 375.8L350.5 363L347.3 368.1L368.4 381.6L388.2 396.5L407.1 412.8L425.9 429.4Z" fill="#1c1c1c"/><path d="M430.9 423.5L411.5 407.5L392 391.6L371.4 377.1L349.8 364.2L348 367L369.2 380.3L389.3 395.1L408.4 411.3L427.3 427.7Z" fill="#424242"/><path d="M367.7 426.6L351.2 407.4L335.9 387.4L321.9 366.4L308.5 344.9L295 323.4L290.7 326L303.7 347.8L316.6 369.7L330.3 391.3L345.4 412L361.6 431.7Z" fill="#1a1a1a"/><path d="M366.3 427.7L349.9 408.4L334.6 388.3L320.7 367.2L307.5 345.5L294 323.9L291.7 325.4L304.8 347.1L317.8 369L331.6 390.4L346.7 410.9L363 430.5Z" fill="#404040"/><path d="M432.7 362.2L417.7 353.5L402.7 344.8L387.9 336.1L373.3 326.7L369.9 331.7L383.8 342.1L398.2 352L412.5 361.7L426.8 371.5Z" fill="#1a1a1a"/><path d="M431.4 364.2L416.5 355.3L401.7 346.4L387 337.4L372.6 327.9L370.7 330.6L384.7 340.8L399.2 350.3L413.7 359.9L428.2 369.4Z" fill="#3d3d3d"/><path d="M432.1 303L409 294.3L385.8 285.7L362.5 277.6L339.4 269.1L337.2 274.7L360.1 283.9L383.2 292.7L406 301.9L428.8 311.3Z" fill="#1c1c1c"/><path d="M431.3 304.8L408.3 296L385.2 287.2L362 279L338.9 270.4L337.7 273.5L360.7 282.5L383.8 291.1L406.7 300.2L429.5 309.4Z" fill="#424242"/><path d="M431.2 280.8L424 280.6L416.7 280.3L409.4 280L402.1 279.7L401.8 284.7L409 285.5L416.2 286.3L423.5 287.1L430.7 287.8Z" fill="#1a1a1a"/><path d="M431.1 282.4L423.8 282L416.6 281.6L409.3 281.3L402 280.9L401.8 283.6L409.1 284.3L416.3 284.9L423.6 285.6L430.8 286.3Z" fill="#383838"/><path d="M342.8 217.8L362.9 217.7L382.9 217.6L403 217.4L423 217.3L423 212.3L403 212.2L382.9 212.1L362.9 211.9L342.8 211.8Z" fill="#181818"/><path d="M342.8 216.5L362.9 216.4L382.9 216.3L403 216.3L423 216.2L423 213.4L403 213.4L382.9 213.3L362.9 213.2L342.8 213.2Z" fill="#383838"/><path d="M382.5 231.2L392.7 230.3L402.9 229.4L413 228.5L423.2 227.7L422.8 221.7L412.6 222.3L402.4 222.9L392.2 223.6L382 224.2Z" fill="#181818"/><path d="M382.4 229.6L392.6 228.8L402.8 228L412.9 227.1L423.1 226.3L422.9 223L412.7 223.7L402.5 224.4L392.3 225.1L382.1 225.8Z" fill="#383838"/><path d="M342.1 252.3L352.3 254.5L362.6 256.6L372.9 258.8L383.1 260.9L384.4 255.1L374.2 252.7L364 250.3L353.8 247.9L343.6 245.5Z" fill="#1a1a1a"/><path d="M342.4 250.8L352.7 253L362.9 255.2L373.2 257.4L383.4 259.6L384.1 256.4L373.9 254L363.7 251.7L353.5 249.4L343.3 247Z" fill="#3d3d3d"/><path d="M292.1 281.9L302.1 290L312.1 298.2L322.1 306.3L332.1 314.5L335.4 310.6L325.7 302.1L316 293.6L306.3 285.1L296.6 276.5Z" fill="#1a1a1a"/><path d="M293.1 280.7L303.1 288.9L313 297.1L322.9 305.4L332.9 313.6L334.6 311.5L324.9 303.1L315.1 294.6L305.4 286.2L295.6 277.7Z" fill="#3d3d3d"/><path d="M324.9 289.5L342.8 298L360.7 306.5L378.6 314.9L396.5 323.4L398.3 319.8L380.6 310.9L362.9 302L345.2 293L327.5 284.1Z" fill="#151515"/><path d="M325.5 288.3L343.3 296.9L361.2 305.4L379 314L396.9 322.6L397.9 320.6L380.1 311.8L362.4 303L344.6 294.1L326.9 285.3Z" fill="#303030"/><path d="M267.9 429.9L264.9 419L261.9 408L258.9 397.1L255.9 386.2L251 387.4L253.5 398.5L256.1 409.5L258.6 420.6L261.1 431.6Z" fill="#181818"/><path d="M266.4 430.3L263.5 419.3L260.6 408.4L257.7 397.4L254.8 386.5L252.1 387.1L254.7 398.1L257.4 409.2L260 420.2L262.6 431.2Z" fill="#383838"/><path d="M250.4 404.7L249.1 391.8L247.9 379L246.6 366.1L245.3 353.2L240.4 353.7L241.4 366.6L242.4 379.5L243.4 392.3L244.4 405.2Z" fill="#171717"/><path d="M249 404.8L247.8 392L246.6 379.1L245.4 366.2L244.2 353.3L241.5 353.6L242.5 366.5L243.6 379.3L244.7 392.2L245.8 405.1Z" fill="#363636"/><path d="M232.2 381.8L230.5 372.3L228.9 362.9L227.3 353.4L225.6 344L220.7 344.8L222.1 354.2L223.5 363.7L224.9 373.2L226.2 382.7Z" fill="#171717"/><path d="M230.8 382L229.3 372.5L227.7 363.1L226.1 353.6L224.5 344.1L221.8 344.6L223.2 354.1L224.7 363.5L226.1 373L227.6 382.5Z" fill="#363636"/><path d="M212 362.5L211.9 351.9L211.8 341.3L211.6 330.7L211.5 320.1L207.5 320.1L207.4 330.7L207.3 341.3L207.1 351.9L207 362.5Z" fill="#171717"/><path d="M210.9 362.5L210.8 351.9L210.8 341.3L210.7 330.7L210.6 320.1L208.4 320.1L208.3 330.7L208.3 341.3L208.2 351.9L208.1 362.5Z" fill="#333333"/><path d="M289.1 387.3L283.7 375.2L278.2 363.2L272.8 351.1L267.4 339L263.7 340.6L268.9 352.8L274.1 365L279.3 377.1L284.5 389.3Z" fill="#151515"/><path d="M288 387.8L282.7 375.7L277.3 363.6L271.9 351.5L266.6 339.4L264.6 340.3L269.8 352.4L275 364.6L280.3 376.7L285.5 388.9Z" fill="#303030"/><circle cx="210.8" cy="211.4" r="5" fill="url(#ge)"/>
</g></g>
<rect x="92.8" y="443.9" width="423.4" height="0.9" fill="#262626" opacity="0.8"/>
<rect x="532.6" y="21.4" width="37.2" height="422.6" fill="url(#cb)" stroke="#111" stroke-width="1.3"/>
<rect x="565.6" y="126.2" width="4.2" height="1" fill="#111"/>
<rect x="565.6" y="232" width="4.2" height="1" fill="#111"/>
<rect x="565.6" y="337.8" width="4.2" height="1" fill="#111"/>
<text class="t" x="580.3" y="29.7">0</text>
<text class="t" x="580.3" y="135.4">-5</text>
<text class="t" x="580.3" y="241.2">-10</text>
<text class="t" x="580.3" y="346.9">-15</text>
<text class="t" x="580.3" y="452.7">-20</text>
<text class="t" text-anchor="middle" x="133.9" y="478.8">-2</text>
<text class="t" text-anchor="middle" x="217.6" y="478.8">-1</text>
<text class="t" text-anchor="middle" x="304.1" y="478.8">0</text>
<text class="t" text-anchor="middle" x="388.4" y="478.8">1</text>
<text class="t" text-anchor="middle" x="472.8" y="478.8">2</text>
<text class="t" text-anchor="end" x="82.4" y="71.8">2</text>
<text class="t" text-anchor="end" x="82.4" y="156.4">1</text>
<text class="t" text-anchor="end" x="82.4" y="241">0</text>
<text class="t" text-anchor="end" x="82.4" y="325.6">-1</text>
<text class="t" text-anchor="end" x="82.4" y="410.2">-2</text>
<text class="l" x="93.6" y="532.8" textLength="180.2" lengthAdjust="spacingAndGlyphs">Horizontal</text>
<text class="l" x="286.4" y="532.8" textLength="160" lengthAdjust="spacingAndGlyphs">Direction</text>
<text class="l" x="461.5" y="532.8" textLength="53.9" lengthAdjust="spacingAndGlyphs">[m]</text>
<text class="l" transform="translate(32.8,420.6) rotate(-90)" textLength="133" lengthAdjust="spacingAndGlyphs">Vertical</text>
<text class="l" transform="translate(32.8,271.8) rotate(-90)" textLength="160" lengthAdjust="spacingAndGlyphs">Direction</text>
<text class="l" transform="translate(32.8,97.6) rotate(-90)" textLength="52.6" lengthAdjust="spacingAndGlyphs">[m]</text>
<text class="l" transform="translate(676.8,307.1) rotate(-90)" textLength="75.5" lengthAdjust="spacingAndGlyphs">SPL</text>
<text class="l" transform="translate(676.8,219.8) rotate(-90)" textLength="68.9" lengthAdjust="spacingAndGlyphs">[dB]</text>
<text class="c" x="271" y="592.3">(e)</text>
</g>
</svg></body></html>
